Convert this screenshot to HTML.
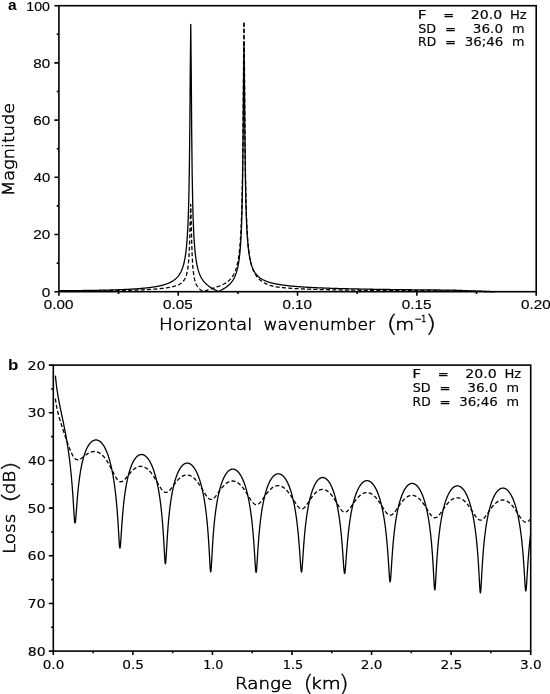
<!DOCTYPE html>
<html><head><meta charset="utf-8"><title>Figure</title>
<style>html,body{margin:0;padding:0;background:#fff}svg{display:block}</style>
</head><body>
<svg width="550" height="694" viewBox="0 0 550 694">
<rect width="550" height="694" fill="#fff"/>
<g fill="none" stroke="#000" stroke-linejoin="round">
<path d="M58.9 290.74 L59.02 290.74 L59.5 290.73 L59.97 290.73 L60.45 290.73 L60.93 290.72 L61.41 290.72 L61.88 290.72 L62.36 290.71 L62.84 290.71 L63.32 290.71 L63.79 290.7 L64.27 290.7 L64.75 290.7 L65.22 290.69 L65.7 290.69 L66.18 290.69 L66.66 290.68 L67.13 290.68 L67.61 290.67 L68.09 290.67 L68.57 290.67 L69.04 290.66 L69.52 290.66 L70 290.66 L70.47 290.65 L70.95 290.65 L71.43 290.64 L71.91 290.64 L72.38 290.63 L72.86 290.63 L73.34 290.63 L73.82 290.62 L74.29 290.62 L74.77 290.61 L75.25 290.61 L75.72 290.6 L76.2 290.6 L76.68 290.59 L77.16 290.59 L77.63 290.58 L78.11 290.58 L78.59 290.57 L79.07 290.57 L79.54 290.56 L80.02 290.56 L80.5 290.55 L80.98 290.55 L81.45 290.54 L81.93 290.54 L82.41 290.53 L82.88 290.53 L83.36 290.52 L83.84 290.51 L84.32 290.51 L84.79 290.5 L85.27 290.5 L85.75 290.49 L86.23 290.48 L86.7 290.48 L87.18 290.47 L87.66 290.46 L88.13 290.46 L88.61 290.45 L89.09 290.44 L89.57 290.44 L90.04 290.43 L90.52 290.42 L91 290.41 L91.48 290.41 L91.95 290.4 L92.43 290.39 L92.91 290.38 L93.38 290.38 L93.86 290.37 L94.34 290.36 L94.82 290.35 L95.29 290.34 L95.77 290.34 L96.25 290.33 L96.73 290.32 L97.2 290.31 L97.68 290.3 L98.16 290.29 L98.64 290.28 L99.11 290.27 L99.59 290.26 L100.07 290.25 L100.54 290.24 L101.02 290.23 L101.5 290.22 L101.98 290.21 L102.45 290.2 L102.93 290.19 L103.41 290.18 L103.89 290.17 L104.36 290.16 L104.84 290.15 L105.32 290.14 L105.79 290.13 L106.27 290.11 L106.75 290.1 L107.23 290.09 L107.7 290.08 L108.18 290.06 L108.66 290.05 L109.14 290.04 L109.61 290.03 L110.09 290.01 L110.57 290 L111.05 289.99 L111.52 289.97 L112 289.96 L112.48 289.94 L112.95 289.93 L113.43 289.91 L113.91 289.9 L114.39 289.88 L114.86 289.87 L115.34 289.85 L115.82 289.84 L116.3 289.82 L116.77 289.8 L117.25 289.79 L117.73 289.77 L118.2 289.75 L118.68 289.73 L119.16 289.72 L119.64 289.7 L120.11 289.68 L120.59 289.66 L121.07 289.64 L121.55 289.62 L122.02 289.6 L122.5 289.58 L122.98 289.56 L123.45 289.54 L123.93 289.52 L124.41 289.5 L124.89 289.48 L125.36 289.45 L125.84 289.43 L126.32 289.41 L126.8 289.38 L127.27 289.36 L127.75 289.34 L128.23 289.31 L128.71 289.29 L129.18 289.26 L129.66 289.23 L130.14 289.21 L130.61 289.18 L131.09 289.15 L131.57 289.12 L132.05 289.1 L132.52 289.07 L133 289.04 L133.48 289.01 L133.96 288.98 L134.43 288.95 L134.91 288.91 L135.39 288.88 L135.86 288.85 L136.34 288.82 L136.82 288.78 L137.3 288.75 L137.77 288.71 L138.25 288.67 L138.73 288.64 L139.21 288.6 L139.68 288.56 L140.16 288.52 L140.64 288.48 L141.11 288.44 L141.59 288.4 L142.07 288.36 L142.55 288.31 L143.02 288.27 L143.5 288.22 L143.98 288.18 L144.46 288.13 L144.93 288.08 L145.41 288.03 L145.89 287.98 L146.37 287.93 L146.84 287.88 L147.32 287.83 L147.8 287.77 L148.27 287.71 L148.75 287.66 L149.23 287.6 L149.71 287.54 L150.18 287.48 L150.66 287.41 L151.14 287.35 L151.62 287.28 L152.09 287.22 L152.57 287.15 L153.05 287.08 L153.52 287 L154 286.93 L154.48 286.85 L154.96 286.77 L155.43 286.69 L155.91 286.61 L156.39 286.52 L156.87 286.44 L157.34 286.35 L157.82 286.25 L158.3 286.16 L158.78 286.06 L159.25 285.96 L159.73 285.85 L160.21 285.75 L160.68 285.64 L161.16 285.52 L161.64 285.41 L162.12 285.29 L162.59 285.16 L163.07 285.03 L163.55 284.9 L164.03 284.76 L164.5 284.62 L164.98 284.47 L165.46 284.31 L165.93 284.16 L166.41 283.99 L166.89 283.82 L167.37 283.64 L167.84 283.46 L168.32 283.26 L168.8 283.06 L169.28 282.85 L169.75 282.63 L170.23 282.41 L170.71 282.17 L171.18 281.92 L171.66 281.66 L172.14 281.38 L172.62 281.09 L173.09 280.79 L173.57 280.47 L174.05 280.13 L174.53 279.78 L175 279.4 L175.48 279 L175.96 278.58 L176.44 278.13 L176.91 277.65 L177.39 277.13 L177.87 276.58 L178.34 275.99 L178.82 275.35 L179.3 274.66 L179.78 273.92 L180.25 273.1 L180.73 272.22 L181.21 271.24 L181.69 270.17 L182.16 268.98 L182.64 267.66 L183.12 266.17 L183.59 264.5 L184.07 262.59 L184.55 260.4 L185.03 257.85 L185.5 254.86 L185.98 251.29 L186.46 246.97 L186.94 241.63 L187.41 234.85 L187.89 226 L188.37 214.01 L188.84 196.95 L189.32 171.28 L189.8 130.53 L190.28 68.77 L190.75 24.51 L191.23 71.25 L191.71 134.1 L192.19 175.27 L192.66 201.12 L193.14 218.27 L193.62 230.31 L194.1 239.19 L194.57 245.99 L195.05 251.35 L195.53 255.68 L196 259.26 L196.48 262.26 L196.96 264.82 L197.44 267.02 L197.91 268.94 L198.39 270.63 L198.87 272.13 L199.35 273.47 L199.82 274.67 L200.3 275.76 L200.78 276.76 L201.25 277.67 L201.73 278.5 L202.21 279.27 L202.69 279.98 L203.16 280.65 L203.64 281.27 L204.12 281.85 L204.6 282.39 L205.07 282.91 L205.55 283.39 L206.03 283.85 L206.51 284.29 L206.98 284.71 L207.46 285.11 L207.94 285.49 L208.41 285.85 L208.89 286.21 L209.37 286.54 L209.85 286.87 L210.32 287.19 L210.8 287.5 L211.28 287.8 L211.76 288.09 L212.23 288.37 L212.71 288.65 L213.19 288.92 L213.66 289.18 L214.14 289.44 L214.62 289.7 L215.1 289.95 L215.57 290.2 L216.05 290.44 L216.53 290.68 L217.01 290.91 L218.2 291.32 L218.68 291.29 L219.15 291.14 L219.63 290.93 L220.11 290.7 L220.59 290.46 L221.06 290.21 L221.54 289.96 L222.02 289.7 L222.49 289.43 L222.97 289.15 L223.45 288.87 L223.93 288.59 L224.4 288.29 L224.88 287.99 L225.36 287.67 L225.84 287.35 L226.31 287.01 L226.79 286.66 L227.27 286.3 L227.74 285.92 L228.22 285.52 L228.7 285.11 L229.18 284.67 L229.65 284.21 L230.13 283.73 L230.61 283.21 L231.09 282.67 L231.56 282.08 L232.04 281.46 L232.52 280.79 L233 280.07 L233.47 279.29 L233.95 278.44 L234.43 277.51 L234.9 276.49 L235.38 275.37 L235.86 274.12 L236.34 272.72 L236.81 271.15 L237.29 269.36 L237.77 267.3 L238.25 264.93 L238.72 262.13 L239.2 258.81 L239.68 254.77 L240.15 249.79 L240.63 243.47 L241.11 235.22 L241.59 224.03 L242.06 208.09 L242.54 184.07 L243.02 145.8 L243.5 87.33 L243.97 43.66 L244.45 83.35 L244.93 140.06 L245.4 177.65 L245.88 201.36 L246.36 217.14 L246.84 228.24 L247.31 236.43 L247.79 242.7 L248.27 247.65 L248.75 251.65 L249.22 254.95 L249.7 257.72 L250.18 260.07 L250.66 262.1 L251.13 263.87 L251.61 265.42 L252.09 266.8 L252.56 268.02 L253.04 269.12 L253.52 270.11 L254 271.01 L254.47 271.84 L254.95 272.59 L255.43 273.28 L255.91 273.92 L256.38 274.51 L256.86 275.06 L257.34 275.57 L257.81 276.04 L258.29 276.49 L258.77 276.91 L259.25 277.3 L259.72 277.67 L260.2 278.02 L260.68 278.35 L261.16 278.66 L261.63 278.96 L262.11 279.24 L262.59 279.51 L263.07 279.76 L263.54 280.01 L264.02 280.24 L264.5 280.46 L264.97 280.68 L265.45 280.88 L265.93 281.08 L266.41 281.26 L266.88 281.44 L267.36 281.62 L267.84 281.78 L268.32 281.94 L268.79 282.1 L269.27 282.25 L269.75 282.39 L270.22 282.53 L270.7 282.67 L271.18 282.8 L271.66 282.93 L272.13 283.05 L272.61 283.17 L273.09 283.28 L273.57 283.39 L274.04 283.5 L274.52 283.61 L275 283.71 L275.47 283.81 L275.95 283.91 L276.43 284 L276.91 284.09 L277.38 284.18 L277.86 284.27 L278.34 284.35 L278.82 284.43 L279.29 284.51 L279.77 284.59 L280.25 284.67 L280.73 284.74 L281.2 284.82 L281.68 284.89 L282.16 284.96 L282.63 285.03 L283.11 285.09 L283.59 285.16 L284.07 285.22 L284.54 285.29 L285.02 285.35 L285.5 285.41 L285.98 285.47 L286.45 285.52 L286.93 285.58 L287.41 285.63 L287.88 285.69 L288.36 285.74 L288.84 285.79 L289.32 285.85 L289.79 285.9 L290.27 285.94 L290.75 285.99 L291.23 286.04 L291.7 286.09 L292.18 286.13 L292.66 286.18 L293.13 286.22 L293.61 286.26 L294.09 286.31 L294.57 286.35 L295.04 286.39 L295.52 286.43 L296 286.47 L296.48 286.51 L296.95 286.55 L297.43 286.59 L297.91 286.62 L298.39 286.66 L298.86 286.7 L299.34 286.73 L299.82 286.77 L300.29 286.8 L300.77 286.84 L301.25 286.87 L301.73 286.9 L302.2 286.94 L302.68 286.97 L303.16 287 L303.64 287.03 L304.11 287.06 L304.59 287.09 L305.07 287.12 L305.54 287.15 L306.02 287.18 L306.5 287.21 L306.98 287.24 L307.45 287.26 L307.93 287.29 L308.41 287.32 L308.89 287.35 L309.36 287.37 L309.84 287.4 L310.32 287.42 L310.8 287.45 L311.27 287.48 L311.75 287.5 L312.23 287.52 L312.7 287.55 L313.18 287.57 L313.66 287.6 L314.14 287.62 L314.61 287.64 L315.09 287.67 L315.57 287.69 L316.05 287.71 L316.52 287.73 L317 287.75 L317.48 287.78 L317.95 287.8 L318.43 287.82 L318.91 287.84 L319.39 287.86 L319.86 287.88 L320.34 287.9 L320.82 287.92 L321.3 287.94 L321.77 287.96 L322.25 287.98 L322.73 288 L323.2 288.02 L323.68 288.03 L324.16 288.05 L324.64 288.07 L325.11 288.09 L325.59 288.11 L326.07 288.12 L326.55 288.14 L327.02 288.16 L327.5 288.18 L327.98 288.19 L328.46 288.21 L328.93 288.23 L329.41 288.24 L329.89 288.26 L330.36 288.28 L330.84 288.29 L331.32 288.31 L331.8 288.32 L332.27 288.34 L332.75 288.35 L333.23 288.37 L333.71 288.38 L334.18 288.4 L334.66 288.41 L335.14 288.43 L335.61 288.44 L336.09 288.46 L336.57 288.47 L337.05 288.49 L337.52 288.5 L338 288.51 L338.48 288.53 L338.96 288.54 L339.43 288.55 L339.91 288.57 L340.39 288.58 L340.86 288.59 L341.34 288.61 L341.82 288.62 L342.3 288.63 L342.77 288.65 L343.25 288.66 L343.73 288.67 L344.21 288.68 L344.68 288.69 L345.16 288.71 L345.64 288.72 L346.12 288.73 L346.59 288.74 L347.07 288.75 L347.55 288.77 L348.02 288.78 L348.5 288.79 L348.98 288.8 L349.46 288.81 L349.93 288.82 L350.41 288.83 L350.89 288.85 L351.37 288.86 L351.84 288.87 L352.32 288.88 L352.8 288.89 L353.27 288.9 L353.75 288.91 L354.23 288.92 L354.71 288.93 L355.18 288.94 L355.66 288.95 L356.14 288.96 L356.62 288.97 L357.09 288.98 L357.57 288.99 L358.05 289 L358.53 289.01 L359 289.02 L359.48 289.03 L359.96 289.04 L360.43 289.05 L360.91 289.06 L361.39 289.07 L361.87 289.08 L362.34 289.09 L362.82 289.09 L363.3 289.1 L363.78 289.11 L364.25 289.12 L364.73 289.13 L365.21 289.14 L365.68 289.15 L366.16 289.16 L366.64 289.17 L367.12 289.17 L367.59 289.18 L368.07 289.19 L368.55 289.2 L369.03 289.21 L369.5 289.22 L369.98 289.22 L370.46 289.23 L370.93 289.24 L371.41 289.25 L371.89 289.26 L372.37 289.26 L372.84 289.27 L373.32 289.28 L373.8 289.29 L374.28 289.3 L374.75 289.3 L375.23 289.31 L375.71 289.32 L376.19 289.33 L376.66 289.33 L377.14 289.34 L377.62 289.35 L378.09 289.36 L378.57 289.36 L379.05 289.37 L379.53 289.38 L380 289.38 L380.48 289.39 L380.96 289.4 L381.44 289.41 L381.91 289.41 L382.39 289.42 L382.87 289.43 L383.34 289.43 L383.82 289.44 L384.3 289.45 L384.78 289.45 L385.25 289.46 L385.73 289.47 L386.21 289.47 L386.69 289.48 L387.16 289.49 L387.64 289.49 L388.12 289.5 L388.59 289.51 L389.07 289.51 L389.55 289.52 L390.03 289.52 L390.5 289.53 L390.98 289.54 L391.46 289.54 L391.94 289.55 L392.41 289.56 L392.89 289.56 L393.37 289.57 L393.85 289.57 L394.32 289.58 L394.8 289.59 L395.28 289.59 L395.75 289.6 L396.23 289.6 L396.71 289.61 L397.19 289.61 L397.66 289.62 L398.14 289.63 L398.62 289.63 L399.1 289.64 L399.57 289.64 L400.05 289.65 L400.53 289.65 L401 289.66 L401.48 289.67 L401.96 289.67 L402.44 289.68 L402.91 289.68 L403.39 289.69 L403.87 289.69 L404.35 289.7 L404.82 289.7 L405.3 289.71 L405.78 289.71 L406.26 289.72 L406.73 289.72 L407.21 289.73 L407.69 289.73 L408.16 289.74 L408.64 289.74 L409.12 289.75 L409.6 289.75 L410.07 289.76 L410.55 289.76 L411.03 289.77 L411.51 289.77 L411.98 289.78 L412.46 289.78 L412.94 289.79 L413.41 289.79 L413.89 289.8 L414.37 289.8 L414.85 289.81 L415.32 289.81 L415.8 289.82 L416.28 289.82 L416.76 289.83 L417.23 289.83 L417.71 289.84 L418.19 289.84 L418.66 289.84 L419.14 289.85 L419.62 289.85 L420.1 289.86 L420.57 289.86 L421.05 289.87 L421.53 289.87 L422.01 289.88 L422.48 289.88 L422.96 289.88 L423.44 289.89 L423.92 289.89 L424.39 289.9 L424.87 289.9 L425.35 289.91 L425.82 289.91 L426.3 289.91 L426.78 289.92 L427.26 289.92 L427.73 289.93 L428.21 289.93 L428.69 289.94 L429.17 289.94 L429.64 289.94 L430.12 289.95 L430.6 289.95 L431.07 289.96 L431.55 289.96 L432.03 289.96 L432.51 289.97 L432.98 289.97 L433.46 289.98 L433.94 289.98 L434.42 289.98 L434.89 289.99 L435.37 289.99 L435.85 289.99 L436.32 290 L436.8 290 L437.28 290.01 L437.76 290.01 L438.23 290.01 L438.71 290.02 L439.19 290.02 L439.67 290.02 L440.14 290.03 L440.62 290.03 L441.1 290.04 L441.58 290.04 L442.05 290.04 L442.53 290.05 L443.01 290.05 L443.48 290.05 L443.96 290.06 L444.44 290.06 L444.92 290.06 L445.39 290.07 L445.87 290.07 L446.35 290.07 L446.83 290.08 L447.3 290.08 L447.78 290.08 L448.26 290.09 L448.73 290.09 L449.21 290.1 L449.69 290.1 L450.17 290.1 L450.64 290.11 L451.12 290.11 L451.6 290.11 L452.08 290.12 L452.55 290.12 L453.03 290.13 L453.51 290.16 L453.99 290.18 L454.46 290.2 L454.94 290.22 L455.42 290.24 L455.89 290.26 L456.37 290.28 L456.85 290.3 L457.33 290.32 L457.8 290.34 L458.28 290.36 L458.76 290.38 L459.24 290.4 L459.71 290.42 L460.19 290.44 L460.67 290.46 L461.14 290.48 L461.62 290.5 L462.1 290.51 L462.58 290.53 L463.05 290.55 L463.53 290.57 L464.01 290.59 L464.49 290.61 L464.96 290.63 L465.44 290.65 L465.92 290.67 L466.39 290.68 L466.87 290.7 L467.35 290.72 L467.83 290.74 L468.3 290.76 L468.78 290.78 L469.26 290.79 L469.74 290.81 L470.21 290.83 L470.69 290.85 L471.17 290.87 L471.65 290.88 L472.12 290.9 L472.6 290.92 L473.08 290.94 L473.55 290.96 L474.03 290.97 L474.51 290.99 L474.99 291.01 L475.46 291.02 L475.94 291.04 L476.42 291.06 L476.9 291.08 L477.37 291.09 L477.85 291.11 L478.33 291.13 L478.8 291.14 L479.28 291.16 L479.76 291.18 L480.24 291.19 L480.71 291.21 L481.19 291.23 L481.67 291.24 L482.15 291.26 L482.62 291.28 L483.1 291.29 L483.58 291.31 L484.05 291.33 L484.53 291.34 L485.01 291.36 L485.49 291.37 L485.96 291.39 L486.44 291.41 L486.92 291.42 L487.4 291.44 L487.87 291.45 L488.35 291.47 L488.83 291.48 L489.31 291.5 L489.78 291.51 L490.26 291.53 L490.74 291.55 L491.21 291.56 L491.69 291.58 L492.17 291.59 L492.65 291.61 L493.12 291.62 L493.6 291.64 L494.08 291.65 L494.56 291.67 L495.03 291.68 L495.51 291.7" stroke-width="1.3"/>
<path d="M58.9 291.09 L59.02 291.09 L59.5 291.09 L59.97 291.09 L60.45 291.09 L60.93 291.09 L61.41 291.08 L61.88 291.08 L62.36 291.08 L62.84 291.08 L63.32 291.08 L63.79 291.08 L64.27 291.07 L64.75 291.07 L65.22 291.07 L65.7 291.07 L66.18 291.07 L66.66 291.06 L67.13 291.06 L67.61 291.06 L68.09 291.06 L68.57 291.05 L69.04 291.05 L69.52 291.05 L70 291.05 L70.47 291.05 L70.95 291.04 L71.43 291.04 L71.91 291.04 L72.38 291.04 L72.86 291.03 L73.34 291.03 L73.82 291.03 L74.29 291.03 L74.77 291.02 L75.25 291.02 L75.72 291.02 L76.2 291.02 L76.68 291.01 L77.16 291.01 L77.63 291.01 L78.11 291.01 L78.59 291 L79.07 291 L79.54 291 L80.02 290.99 L80.5 290.99 L80.98 290.99 L81.45 290.98 L81.93 290.98 L82.41 290.98 L82.88 290.97 L83.36 290.97 L83.84 290.97 L84.32 290.97 L84.79 290.96 L85.27 290.96 L85.75 290.95 L86.23 290.95 L86.7 290.95 L87.18 290.94 L87.66 290.94 L88.13 290.94 L88.61 290.93 L89.09 290.93 L89.57 290.92 L90.04 290.92 L90.52 290.92 L91 290.91 L91.48 290.91 L91.95 290.9 L92.43 290.9 L92.91 290.9 L93.38 290.89 L93.86 290.89 L94.34 290.88 L94.82 290.88 L95.29 290.87 L95.77 290.87 L96.25 290.86 L96.73 290.86 L97.2 290.85 L97.68 290.85 L98.16 290.84 L98.64 290.84 L99.11 290.83 L99.59 290.83 L100.07 290.82 L100.54 290.82 L101.02 290.81 L101.5 290.81 L101.98 290.8 L102.45 290.79 L102.93 290.79 L103.41 290.78 L103.89 290.78 L104.36 290.77 L104.84 290.76 L105.32 290.76 L105.79 290.75 L106.27 290.75 L106.75 290.74 L107.23 290.73 L107.7 290.73 L108.18 290.72 L108.66 290.71 L109.14 290.7 L109.61 290.7 L110.09 290.69 L110.57 290.68 L111.05 290.68 L111.52 290.67 L112 290.66 L112.48 290.65 L112.95 290.64 L113.43 290.64 L113.91 290.63 L114.39 290.62 L114.86 290.61 L115.34 290.6 L115.82 290.59 L116.3 290.58 L116.77 290.58 L117.25 290.57 L117.73 290.56 L118.2 290.55 L118.68 290.54 L119.16 290.53 L119.64 290.52 L120.11 290.51 L120.59 290.5 L121.07 290.49 L121.55 290.48 L122.02 290.47 L122.5 290.46 L122.98 290.45 L123.45 290.44 L123.93 290.42 L124.41 290.41 L124.89 290.4 L125.36 290.39 L125.84 290.38 L126.32 290.36 L126.8 290.35 L127.27 290.34 L127.75 290.33 L128.23 290.31 L128.71 290.3 L129.18 290.29 L129.66 290.27 L130.14 290.26 L130.61 290.25 L131.09 290.23 L131.57 290.22 L132.05 290.2 L132.52 290.19 L133 290.17 L133.48 290.16 L133.96 290.14 L134.43 290.13 L134.91 290.11 L135.39 290.09 L135.86 290.08 L136.34 290.06 L136.82 290.04 L137.3 290.02 L137.77 290.01 L138.25 289.99 L138.73 289.97 L139.21 289.95 L139.68 289.93 L140.16 289.91 L140.64 289.89 L141.11 289.87 L141.59 289.85 L142.07 289.83 L142.55 289.81 L143.02 289.79 L143.5 289.76 L143.98 289.74 L144.46 289.72 L144.93 289.69 L145.41 289.67 L145.89 289.65 L146.37 289.62 L146.84 289.6 L147.32 289.57 L147.8 289.54 L148.27 289.52 L148.75 289.49 L149.23 289.46 L149.71 289.43 L150.18 289.4 L150.66 289.37 L151.14 289.34 L151.62 289.31 L152.09 289.28 L152.57 289.25 L153.05 289.21 L153.52 289.18 L154 289.15 L154.48 289.11 L154.96 289.07 L155.43 289.04 L155.91 289 L156.39 288.96 L156.87 288.92 L157.34 288.88 L157.82 288.84 L158.3 288.8 L158.78 288.75 L159.25 288.71 L159.73 288.66 L160.21 288.61 L160.68 288.57 L161.16 288.52 L161.64 288.46 L162.12 288.41 L162.59 288.36 L163.07 288.3 L163.55 288.24 L164.03 288.19 L164.5 288.12 L164.98 288.06 L165.46 288 L165.93 287.93 L166.41 287.86 L166.89 287.79 L167.37 287.72 L167.84 287.64 L168.32 287.56 L168.8 287.48 L169.28 287.4 L169.75 287.31 L170.23 287.22 L170.71 287.12 L171.18 287.02 L171.66 286.92 L172.14 286.81 L172.62 286.7 L173.09 286.58 L173.57 286.46 L174.05 286.33 L174.53 286.19 L175 286.05 L175.48 285.9 L175.96 285.74 L176.44 285.57 L176.91 285.39 L177.39 285.2 L177.87 285 L178.34 284.79 L178.82 284.56 L179.3 284.31 L179.78 284.04 L180.25 283.75 L180.73 283.44 L181.21 283.1 L181.69 282.72 L182.16 282.31 L182.64 281.85 L183.12 281.34 L183.59 280.77 L184.07 280.12 L184.55 279.37 L185.03 278.52 L185.5 277.51 L185.98 276.32 L186.46 274.88 L186.94 273.11 L187.41 270.88 L187.89 267.97 L188.37 264.05 L188.84 258.49 L189.32 250.17 L189.8 237.05 L190.28 217.44 L190.75 204.35 L191.23 221.04 L191.71 242.23 L192.19 255.95 L192.66 264.53 L193.14 270.22 L193.62 274.21 L194.1 277.16 L194.57 279.42 L195.05 281.21 L195.53 282.66 L196 283.86 L196.48 284.87 L196.96 285.74 L197.44 286.49 L197.91 287.15 L198.39 287.73 L198.87 288.25 L199.35 288.72 L199.82 289.14 L200.3 289.53 L200.78 289.89 L201.25 290.21 L201.73 290.51 L202.21 290.78 L202.69 291.02 L203.16 291.22 L203.64 291.34 L204.12 291.32 L204.6 291.19 L205.07 291.02 L205.55 290.84 L206.03 290.66 L206.51 290.48 L206.98 290.31 L207.46 290.13 L207.94 289.96 L208.41 289.8 L208.89 289.63 L209.37 289.47 L209.85 289.31 L210.32 289.15 L210.8 289 L211.28 288.84 L211.76 288.68 L212.23 288.53 L212.71 288.37 L213.19 288.22 L213.66 288.06 L214.14 287.91 L214.62 287.75 L215.1 287.59 L215.57 287.43 L216.05 287.26 L216.53 287.1 L217.01 286.93 L218.2 286.5 L218.68 286.32 L219.15 286.13 L219.63 285.95 L220.11 285.75 L220.59 285.55 L221.06 285.35 L221.54 285.14 L222.02 284.92 L222.49 284.7 L222.97 284.46 L223.45 284.22 L223.93 283.97 L224.4 283.71 L224.88 283.44 L225.36 283.16 L225.84 282.86 L226.31 282.55 L226.79 282.22 L227.27 281.88 L227.74 281.52 L228.22 281.14 L228.7 280.74 L229.18 280.31 L229.65 279.86 L230.13 279.38 L230.61 278.87 L231.09 278.32 L231.56 277.72 L232.04 277.09 L232.52 276.4 L233 275.66 L233.47 274.85 L233.95 273.97 L234.43 273 L234.9 271.93 L235.38 270.74 L235.86 269.42 L236.34 267.94 L236.81 266.27 L237.29 264.36 L237.77 262.17 L238.25 259.62 L238.72 256.62 L239.2 253.05 L239.68 248.71 L240.15 243.34 L240.63 236.53 L241.11 227.63 L241.59 215.54 L242.06 198.34 L242.54 172.41 L243.02 131.17 L243.5 68.41 L243.97 22.56" stroke-width="1.3" stroke-dasharray="4 2.3"/>
<path d="M243.97 22.56 L244.45 67.11 L244.93 129.29 L245.4 170.31 L245.88 196.14 L246.36 213.29 L246.84 225.34 L247.31 234.23 L247.79 241.02 L248.27 246.38 L248.75 250.71 L249.22 254.28 L249.7 257.27 L250.18 259.81 L250.66 262.01 L251.13 263.94 L251.61 265.64 L252.09 267.15 L252.56 268.51 L253.04 269.74 L253.52 270.85 L254 271.86 L254.47 272.8 L254.95 273.65 L255.43 274.45 L255.91 275.18 L256.38 275.86 L256.86 276.5 L257.34 277.1 L257.81 277.66 L258.29 278.18 L258.77 278.68 L259.25 279.15 L259.72 279.59 L260.2 280.01 L260.68 280.4 L261.16 280.78 L261.63 281.14 L262.11 281.48 L262.59 281.8 L263.07 282.11 L263.54 282.41 L264.02 282.69 L264.5 282.96 L264.97 283.21 L265.45 283.46 L265.93 283.69 L266.41 283.92 L266.88 284.13 L267.36 284.34 L267.84 284.53 L268.32 284.72 L268.79 284.9 L269.27 285.07 L269.75 285.24 L270.22 285.4 L270.7 285.55 L271.18 285.69 L271.66 285.83 L272.13 285.96 L272.61 286.08 L273.09 286.2 L273.57 286.31 L274.04 286.42 L274.52 286.52 L275 286.62 L275.47 286.71 L275.95 286.79 L276.43 286.88 L276.91 286.95 L277.38 287.02 L277.86 287.09 L278.34 287.15 L278.82 287.21 L279.29 287.27 L279.77 287.32 L280.25 287.37 L280.73 287.43 L281.2 287.48 L281.68 287.53 L282.16 287.58 L282.63 287.62 L283.11 287.67 L283.59 287.71 L284.07 287.76 L284.54 287.8 L285.02 287.84 L285.5 287.89 L285.98 287.93 L286.45 287.96 L286.93 288 L287.41 288.04 L287.88 288.08 L288.36 288.11 L288.84 288.15 L289.32 288.18 L289.79 288.22 L290.27 288.25 L290.75 288.28 L291.23 288.32 L291.7 288.35 L292.18 288.38 L292.66 288.41 L293.13 288.44 L293.61 288.47 L294.09 288.5 L294.57 288.53 L295.04 288.55 L295.52 288.58 L296 288.61 L296.48 288.63 L296.95 288.66 L297.43 288.68 L297.91 288.71 L298.39 288.73 L298.86 288.76 L299.34 288.78 L299.82 288.8 L300.29 288.83 L300.77 288.85 L301.25 288.87 L301.73 288.89 L302.2 288.91 L302.68 288.94 L303.16 288.96 L303.64 288.98 L304.11 289 L304.59 289.02 L305.07 289.04 L305.54 289.06 L306.02 289.07 L306.5 289.09 L306.98 289.11 L307.45 289.13 L307.93 289.15 L308.41 289.16 L308.89 289.18 L309.36 289.2 L309.84 289.22 L310.32 289.23 L310.8 289.25 L311.27 289.27 L311.75 289.28 L312.23 289.3 L312.7 289.31 L313.18 289.33 L313.66 289.34 L314.14 289.36 L314.61 289.37 L315.09 289.39 L315.57 289.4 L316.05 289.42 L316.52 289.43 L317 289.44 L317.48 289.46 L317.95 289.47 L318.43 289.48 L318.91 289.5 L319.39 289.51 L319.86 289.52 L320.34 289.54 L320.82 289.55 L321.3 289.56 L321.77 289.57 L322.25 289.59 L322.73 289.6 L323.2 289.61 L323.68 289.62 L324.16 289.63 L324.64 289.64 L325.11 289.66 L325.59 289.67 L326.07 289.68 L326.55 289.69 L327.02 289.7 L327.5 289.71 L327.98 289.72 L328.46 289.73 L328.93 289.74 L329.41 289.75 L329.89 289.76 L330.36 289.77 L330.84 289.78 L331.32 289.79 L331.8 289.8 L332.27 289.81 L332.75 289.82 L333.23 289.83 L333.71 289.84 L334.18 289.85 L334.66 289.86 L335.14 289.87 L335.61 289.88 L336.09 289.88 L336.57 289.89 L337.05 289.9 L337.52 289.91 L338 289.92 L338.48 289.93 L338.96 289.94 L339.43 289.94 L339.91 289.95 L340.39 289.96 L340.86 289.97 L341.34 289.98 L341.82 289.98 L342.3 289.99 L342.77 290 L343.25 290.01 L343.73 290.02 L344.21 290.02 L344.68 290.03 L345.16 290.04 L345.64 290.05 L346.12 290.05 L346.59 290.06 L347.07 290.07 L347.55 290.07 L348.02 290.08 L348.5 290.09 L348.98 290.09 L349.46 290.1 L349.93 290.11 L350.41 290.12 L350.89 290.12 L351.37 290.13 L351.84 290.13 L352.32 290.14 L352.8 290.15 L353.27 290.15 L353.75 290.16 L354.23 290.17 L354.71 290.17 L355.18 290.18 L355.66 290.19 L356.14 290.19 L356.62 290.2 L357.09 290.2 L357.57 290.21 L358.05 290.22 L358.53 290.22 L359 290.23 L359.48 290.23 L359.96 290.24 L360.43 290.24 L360.91 290.25 L361.39 290.25 L361.87 290.26 L362.34 290.27 L362.82 290.27 L363.3 290.28 L363.78 290.28 L364.25 290.29 L364.73 290.29 L365.21 290.3 L365.68 290.3 L366.16 290.31 L366.64 290.31 L367.12 290.32 L367.59 290.32 L368.07 290.33 L368.55 290.33 L369.03 290.34 L369.5 290.34 L369.98 290.35 L370.46 290.35 L370.93 290.36 L371.41 290.36 L371.89 290.37 L372.37 290.37 L372.84 290.38 L373.32 290.38 L373.8 290.39 L374.28 290.39 L374.75 290.39 L375.23 290.4 L375.71 290.4 L376.19 290.41 L376.66 290.41 L377.14 290.42 L377.62 290.42 L378.09 290.43 L378.57 290.43 L379.05 290.43 L379.53 290.44 L380 290.44 L380.48 290.45 L380.96 290.45 L381.44 290.45 L381.91 290.46 L382.39 290.46 L382.87 290.47 L383.34 290.47 L383.82 290.48 L384.3 290.48 L384.78 290.48 L385.25 290.49 L385.73 290.49 L386.21 290.49 L386.69 290.5 L387.16 290.5 L387.64 290.51 L388.12 290.51 L388.59 290.51 L389.07 290.52 L389.55 290.52 L390.03 290.52 L390.5 290.53 L390.98 290.53 L391.46 290.54 L391.94 290.54 L392.41 290.54 L392.89 290.55 L393.37 290.55 L393.85 290.55 L394.32 290.56 L394.8 290.56 L395.28 290.56 L395.75 290.57 L396.23 290.57 L396.71 290.57 L397.19 290.58 L397.66 290.58 L398.14 290.58 L398.62 290.59 L399.1 290.59 L399.57 290.59 L400.05 290.6 L400.53 290.6 L401 290.6 L401.48 290.61 L401.96 290.61 L402.44 290.61 L402.91 290.62 L403.39 290.62 L403.87 290.62 L404.35 290.62 L404.82 290.63 L405.3 290.63 L405.78 290.63 L406.26 290.64 L406.73 290.64 L407.21 290.64 L407.69 290.65 L408.16 290.65 L408.64 290.65 L409.12 290.65 L409.6 290.66 L410.07 290.66 L410.55 290.66 L411.03 290.67 L411.51 290.67 L411.98 290.67 L412.46 290.67 L412.94 290.68 L413.41 290.68 L413.89 290.68 L414.37 290.68 L414.85 290.69 L415.32 290.69 L415.8 290.69 L416.28 290.7 L416.76 290.7 L417.23 290.7 L417.71 290.7 L418.19 290.71 L418.66 290.71 L419.14 290.71 L419.62 290.71 L420.1 290.72 L420.57 290.72 L421.05 290.72 L421.53 290.72 L422.01 290.73 L422.48 290.73 L422.96 290.73 L423.44 290.73 L423.92 290.74 L424.39 290.74 L424.87 290.74 L425.35 290.74 L425.82 290.75 L426.3 290.75 L426.78 290.75 L427.26 290.75 L427.73 290.76 L428.21 290.76 L428.69 290.76 L429.17 290.76 L429.64 290.76 L430.12 290.77 L430.6 290.77 L431.07 290.77 L431.55 290.77 L432.03 290.78 L432.51 290.78 L432.98 290.78 L433.46 290.78 L433.94 290.78 L434.42 290.79 L434.89 290.79 L435.37 290.79 L435.85 290.79 L436.32 290.8 L436.8 290.8 L437.28 290.8 L437.76 290.8 L438.23 290.8 L438.71 290.81 L439.19 290.81 L439.67 290.81 L440.14 290.81 L440.62 290.81 L441.1 290.82 L441.58 290.82 L442.05 290.82 L442.53 290.82 L443.01 290.82 L443.48 290.83 L443.96 290.83 L444.44 290.83 L444.92 290.83 L445.39 290.83 L445.87 290.84 L446.35 290.84 L446.83 290.84 L447.3 290.84 L447.78 290.84 L448.26 290.85 L448.73 290.85 L449.21 290.85 L449.69 290.85 L450.17 290.85 L450.64 290.86 L451.12 290.86 L451.6 290.86 L452.08 290.86 L452.55 290.86 L453.03 290.87 L453.51 290.88 L453.99 290.89 L454.46 290.9 L454.94 290.92 L455.42 290.93 L455.89 290.94 L456.37 290.95 L456.85 290.96 L457.33 290.97 L457.8 290.98 L458.28 290.99 L458.76 291 L459.24 291.01 L459.71 291.02 L460.19 291.03 L460.67 291.04 L461.14 291.05 L461.62 291.06 L462.1 291.07 L462.58 291.08 L463.05 291.09 L463.53 291.1 L464.01 291.11 L464.49 291.12 L464.96 291.13 L465.44 291.14 L465.92 291.15 L466.39 291.16 L466.87 291.17 L467.35 291.18 L467.83 291.19 L468.3 291.2 L468.78 291.21 L469.26 291.22 L469.74 291.23 L470.21 291.24 L470.69 291.25 L471.17 291.26 L471.65 291.27 L472.12 291.28 L472.6 291.29 L473.08 291.3 L473.55 291.31 L474.03 291.32 L474.51 291.33 L474.99 291.34 L475.46 291.34 L475.94 291.35 L476.42 291.36 L476.9 291.37 L477.37 291.38 L477.85 291.39 L478.33 291.4 L478.8 291.41 L479.28 291.42 L479.76 291.43 L480.24 291.43 L480.71 291.44 L481.19 291.45 L481.67 291.46 L482.15 291.47 L482.62 291.48 L483.1 291.49 L483.58 291.49 L484.05 291.5 L484.53 291.51 L485.01 291.52 L485.49 291.53 L485.96 291.54 L486.44 291.55 L486.92 291.55 L487.4 291.56 L487.87 291.57 L488.35 291.58 L488.83 291.59 L489.31 291.59 L489.78 291.6 L490.26 291.61 L490.74 291.62 L491.21 291.63 L491.69 291.63 L492.17 291.64 L492.65 291.65 L493.12 291.66 L493.6 291.67 L494.08 291.67 L494.56 291.68 L495.03 291.69 L495.51 291.7" stroke-width="1.3" stroke-dasharray="4 2.3" stroke-dashoffset="5.95"/>
<path d="M55.4 375.59 L55.65 378.26 L55.9 380.69 L56.15 382.94 L56.4 385.02 L56.65 386.97 L56.9 388.81 L57.15 390.56 L57.4 392.22 L57.65 393.81 L57.9 395.34 L58.15 396.81 L58.4 398.24 L58.65 399.63 L58.9 400.98 L59.15 402.3 L59.4 403.6 L59.65 404.87 L59.9 406.12 L60.15 407.35 L60.4 408.57 L60.65 409.78 L60.9 410.98 L61.15 412.17 L61.4 413.35 L61.65 414.54 L61.9 415.72 L62.15 416.9 L62.4 418.08 L62.65 419.26 L62.9 420.45 L63.15 421.65 L63.4 422.85 L63.65 424.07 L63.9 425.29 L64.15 426.53 L64.4 427.78 L64.65 429.04 L64.9 430.32 L65.15 431.62 L65.4 432.94 L65.65 434.29 L65.9 435.65 L66.15 437.04 L66.4 438.45 L66.65 439.9 L66.9 441.38 L67.15 442.88 L67.4 444.43 L67.65 446.01 L67.9 447.64 L68.15 449.3 L68.4 451.02 L68.65 452.78 L68.9 454.6 L69.15 456.48 L69.4 458.42 L69.65 460.43 L69.9 462.51 L70.15 464.68 L70.4 466.93 L70.65 469.27 L70.9 471.71 L71.15 474.27 L71.4 476.94 L71.65 479.75 L71.9 482.7 L72.15 485.8 L72.4 489.06 L72.65 492.48 L72.9 496.09 L73.15 499.85 L73.4 503.76 L73.65 507.75 L73.9 511.73 L74.15 515.51 L74.4 518.85 L74.65 521.41 L74.9 522.84 L75.15 522.97 L75.4 521.87 L75.65 519.77 L75.9 516.97 L76.15 513.78 L76.4 510.41 L76.65 507.03 L76.9 503.73 L77.15 500.56 L77.4 497.54 L77.65 494.68 L77.9 491.98 L78.15 489.43 L78.4 487.03 L78.65 484.76 L78.9 482.62 L79.15 480.59 L79.4 478.68 L79.65 476.86 L79.9 475.14 L80.15 473.5 L80.4 471.94 L80.65 470.46 L80.9 469.05 L81.15 467.7 L81.4 466.41 L81.65 465.18 L81.9 464 L82.15 462.88 L82.4 461.8 L82.65 460.76 L82.9 459.77 L83.15 458.82 L83.4 457.9 L83.65 457.03 L83.9 456.18 L84.15 455.37 L84.4 454.6 L84.65 453.85 L84.9 453.13 L85.15 452.44 L85.4 451.77 L85.65 451.13 L85.9 450.52 L86.15 449.93 L86.4 449.36 L86.65 448.81 L86.9 448.29 L87.15 447.78 L87.4 447.3 L87.65 446.84 L87.9 446.39 L88.15 445.96 L88.4 445.55 L88.65 445.16 L88.9 444.79 L89.15 444.43 L89.4 444.09 L89.65 443.76 L89.9 443.45 L90.15 443.15 L90.4 442.87 L90.65 442.61 L90.9 442.35 L91.15 442.11 L91.4 441.89 L91.65 441.68 L91.9 441.48 L92.15 441.29 L92.4 441.12 L92.65 440.96 L92.9 440.81 L93.15 440.68 L93.4 440.56 L93.65 440.45 L93.9 440.35 L94.15 440.26 L94.4 440.18 L94.65 440.12 L94.9 440.07 L95.15 440.02 L95.4 439.99 L95.65 439.97 L95.9 439.97 L96.15 439.97 L96.4 439.98 L96.65 440.01 L96.9 440.04 L97.15 440.09 L97.4 440.15 L97.65 440.22 L97.9 440.29 L98.15 440.38 L98.4 440.48 L98.65 440.6 L98.9 440.72 L99.15 440.86 L99.4 441.01 L99.65 441.17 L99.9 441.35 L100.15 441.54 L100.4 441.74 L100.65 441.96 L100.9 442.19 L101.15 442.44 L101.4 442.7 L101.65 442.97 L101.9 443.26 L102.15 443.56 L102.4 443.87 L102.65 444.2 L102.9 444.55 L103.15 444.91 L103.4 445.28 L103.65 445.67 L103.9 446.08 L104.15 446.5 L104.4 446.94 L104.65 447.39 L104.9 447.86 L105.15 448.35 L105.4 448.86 L105.65 449.38 L105.9 449.92 L106.15 450.48 L106.4 451.05 L106.65 451.65 L106.9 452.27 L107.15 452.9 L107.4 453.56 L107.65 454.24 L107.9 454.94 L108.15 455.66 L108.4 456.4 L108.65 457.17 L108.9 457.97 L109.15 458.79 L109.4 459.63 L109.65 460.51 L109.9 461.41 L110.15 462.34 L110.4 463.3 L110.65 464.3 L110.9 465.32 L111.15 466.39 L111.4 467.49 L111.65 468.62 L111.9 469.8 L112.15 471.02 L112.4 472.29 L112.65 473.6 L112.9 474.96 L113.15 476.37 L113.4 477.85 L113.65 479.38 L113.9 480.97 L114.15 482.63 L114.4 484.37 L114.65 486.18 L114.9 488.08 L115.15 490.06 L115.4 492.15 L115.65 494.35 L115.9 496.66 L116.15 499.09 L116.4 501.67 L116.65 504.4 L116.9 507.29 L117.15 510.36 L117.4 513.63 L117.65 517.11 L117.9 520.8 L118.15 524.71 L118.4 528.82 L118.65 533.06 L118.9 537.31 L119.15 541.36 L119.4 544.82 L119.65 547.24 L119.9 548.17 L120.15 547.54 L120.4 545.56 L120.65 542.61 L120.9 539.07 L121.15 535.27 L121.4 531.42 L121.65 527.66 L121.9 524.06 L122.15 520.63 L122.4 517.4 L122.65 514.36 L122.9 511.49 L123.15 508.8 L123.4 506.26 L123.65 503.86 L123.9 501.6 L124.15 499.46 L124.4 497.43 L124.65 495.51 L124.9 493.68 L125.15 491.94 L125.4 490.28 L125.65 488.7 L125.9 487.19 L126.15 485.74 L126.4 484.36 L126.65 483.03 L126.9 481.77 L127.15 480.55 L127.4 479.38 L127.65 478.26 L127.9 477.18 L128.15 476.14 L128.4 475.14 L128.65 474.18 L128.9 473.26 L129.15 472.37 L129.4 471.51 L129.65 470.69 L129.9 469.89 L130.15 469.13 L130.4 468.39 L130.65 467.67 L130.9 466.99 L131.15 466.33 L131.4 465.69 L131.65 465.08 L131.9 464.48 L132.15 463.92 L132.4 463.37 L132.65 462.84 L132.9 462.33 L133.15 461.84 L133.4 461.37 L133.65 460.92 L133.9 460.49 L134.15 460.08 L134.4 459.68 L134.65 459.3 L134.9 458.94 L135.15 458.59 L135.4 458.26 L135.65 457.94 L135.9 457.64 L136.15 457.35 L136.4 457.08 L136.65 456.82 L136.9 456.58 L137.15 456.35 L137.4 456.14 L137.65 455.94 L137.9 455.75 L138.15 455.58 L138.4 455.42 L138.65 455.27 L138.9 455.14 L139.15 455.02 L139.4 454.91 L139.65 454.81 L139.9 454.73 L140.15 454.66 L140.4 454.6 L140.65 454.56 L140.9 454.53 L141.15 454.5 L141.4 454.5 L141.65 454.5 L141.9 454.51 L142.15 454.54 L142.4 454.58 L142.65 454.63 L142.9 454.7 L143.15 454.77 L143.4 454.86 L143.65 454.96 L143.9 455.07 L144.15 455.2 L144.4 455.34 L144.65 455.49 L144.9 455.65 L145.15 455.82 L145.4 456.01 L145.65 456.21 L145.9 456.42 L146.15 456.64 L146.4 456.88 L146.65 457.13 L146.9 457.39 L147.15 457.67 L147.4 457.96 L147.65 458.26 L147.9 458.58 L148.15 458.91 L148.4 459.25 L148.65 459.61 L148.9 459.98 L149.15 460.37 L149.4 460.77 L149.65 461.19 L149.9 461.63 L150.15 462.07 L150.4 462.54 L150.65 463.02 L150.9 463.52 L151.15 464.03 L151.4 464.57 L151.65 465.12 L151.9 465.68 L152.15 466.27 L152.4 466.88 L152.65 467.5 L152.9 468.15 L153.15 468.82 L153.4 469.5 L153.65 470.21 L153.9 470.95 L154.15 471.7 L154.4 472.48 L154.65 473.29 L154.9 474.12 L155.15 474.98 L155.4 475.87 L155.65 476.79 L155.9 477.73 L156.15 478.71 L156.4 479.72 L156.65 480.77 L156.9 481.85 L157.15 482.97 L157.4 484.14 L157.65 485.34 L157.9 486.59 L158.15 487.88 L158.4 489.23 L158.65 490.62 L158.9 492.08 L159.15 493.59 L159.4 495.17 L159.65 496.81 L159.9 498.53 L160.15 500.33 L160.4 502.21 L160.65 504.19 L160.9 506.26 L161.15 508.44 L161.4 510.75 L161.65 513.18 L161.9 515.75 L162.15 518.48 L162.4 521.38 L162.65 524.47 L162.9 527.77 L163.15 531.28 L163.4 535.04 L163.65 539.03 L163.9 543.25 L164.15 547.64 L164.4 552.1 L164.65 556.38 L164.9 560.1 L165.15 562.72 L165.4 563.72 L165.65 562.84 L165.9 560.31 L166.15 556.67 L166.4 552.47 L166.65 548.08 L166.9 543.76 L167.15 539.62 L167.4 535.71 L167.65 532.03 L167.9 528.6 L168.15 525.39 L168.4 522.39 L168.65 519.57 L168.9 516.93 L169.15 514.44 L169.4 512.1 L169.65 509.89 L169.9 507.79 L170.15 505.81 L170.4 503.92 L170.65 502.13 L170.9 500.43 L171.15 498.8 L171.4 497.25 L171.65 495.76 L171.9 494.34 L172.15 492.98 L172.4 491.67 L172.65 490.42 L172.9 489.22 L173.15 488.06 L173.4 486.95 L173.65 485.88 L173.9 484.86 L174.15 483.87 L174.4 482.91 L174.65 482 L174.9 481.11 L175.15 480.26 L175.4 479.44 L175.65 478.64 L175.9 477.88 L176.15 477.14 L176.4 476.43 L176.65 475.74 L176.9 475.08 L177.15 474.44 L177.4 473.82 L177.65 473.23 L177.9 472.66 L178.15 472.11 L178.4 471.58 L178.65 471.07 L178.9 470.58 L179.15 470.1 L179.4 469.65 L179.65 469.21 L179.9 468.79 L180.15 468.39 L180.4 468.01 L180.65 467.64 L180.9 467.29 L181.15 466.95 L181.4 466.63 L181.65 466.32 L181.9 466.03 L182.15 465.75 L182.4 465.49 L182.65 465.25 L182.9 465.01 L183.15 464.79 L183.4 464.59 L183.65 464.4 L183.9 464.22 L184.15 464.05 L184.4 463.9 L184.65 463.76 L184.9 463.64 L185.15 463.53 L185.4 463.43 L185.65 463.34 L185.9 463.27 L186.15 463.2 L186.4 463.15 L186.65 463.12 L186.9 463.09 L187.15 463.08 L187.4 463.08 L187.65 463.09 L187.9 463.12 L188.15 463.16 L188.4 463.21 L188.65 463.27 L188.9 463.34 L189.15 463.43 L189.4 463.53 L189.65 463.64 L189.9 463.76 L190.15 463.9 L190.4 464.05 L190.65 464.21 L190.9 464.38 L191.15 464.57 L191.4 464.77 L191.65 464.98 L191.9 465.21 L192.15 465.45 L192.4 465.7 L192.65 465.96 L192.9 466.24 L193.15 466.54 L193.4 466.84 L193.65 467.16 L193.9 467.5 L194.15 467.85 L194.4 468.22 L194.65 468.6 L194.9 468.99 L195.15 469.4 L195.4 469.83 L195.65 470.27 L195.9 470.73 L196.15 471.2 L196.4 471.7 L196.65 472.21 L196.9 472.74 L197.15 473.28 L197.4 473.85 L197.65 474.43 L197.9 475.04 L198.15 475.66 L198.4 476.3 L198.65 476.97 L198.9 477.66 L199.15 478.37 L199.4 479.11 L199.65 479.87 L199.9 480.65 L200.15 481.46 L200.4 482.3 L200.65 483.16 L200.9 484.06 L201.15 484.98 L201.4 485.94 L201.65 486.93 L201.9 487.95 L202.15 489.01 L202.4 490.11 L202.65 491.25 L202.9 492.43 L203.15 493.66 L203.4 494.93 L203.65 496.25 L203.9 497.62 L204.15 499.05 L204.4 500.54 L204.65 502.1 L204.9 503.72 L205.15 505.41 L205.4 507.18 L205.65 509.04 L205.9 510.99 L206.15 513.04 L206.4 515.19 L206.65 517.47 L206.9 519.87 L207.15 522.42 L207.4 525.12 L207.65 528 L207.9 531.06 L208.15 534.34 L208.4 537.84 L208.65 541.59 L208.9 545.59 L209.15 549.84 L209.4 554.31 L209.65 558.9 L209.9 563.4 L210.15 567.45 L210.4 570.48 L210.65 571.89 L210.9 571.31 L211.15 568.92 L211.4 565.27 L211.65 560.97 L211.9 556.46 L212.15 552 L212.4 547.73 L212.65 543.7 L212.9 539.92 L213.15 536.39 L213.4 533.1 L213.65 530.02 L213.9 527.14 L214.15 524.44 L214.4 521.9 L214.65 519.51 L214.9 517.25 L215.15 515.12 L215.4 513.1 L215.65 511.17 L215.9 509.35 L216.15 507.61 L216.4 505.95 L216.65 504.37 L216.9 502.86 L217.15 501.41 L217.4 500.02 L217.65 498.69 L217.9 497.42 L218.15 496.19 L218.4 495.01 L218.65 493.88 L218.9 492.79 L219.15 491.74 L219.4 490.73 L219.65 489.76 L219.9 488.82 L220.15 487.92 L220.4 487.05 L220.65 486.21 L220.9 485.39 L221.15 484.61 L221.4 483.86 L221.65 483.13 L221.9 482.42 L222.15 481.74 L222.4 481.09 L222.65 480.46 L222.9 479.85 L223.15 479.26 L223.4 478.69 L223.65 478.15 L223.9 477.62 L224.15 477.11 L224.4 476.62 L224.65 476.15 L224.9 475.7 L225.15 475.27 L225.4 474.85 L225.65 474.45 L225.9 474.07 L226.15 473.7 L226.4 473.35 L226.65 473.01 L226.9 472.69 L227.15 472.38 L227.4 472.09 L227.65 471.82 L227.9 471.55 L228.15 471.31 L228.4 471.07 L228.65 470.85 L228.9 470.65 L229.15 470.45 L229.4 470.28 L229.65 470.11 L229.9 469.96 L230.15 469.82 L230.4 469.69 L230.65 469.58 L230.9 469.47 L231.15 469.38 L231.4 469.31 L231.65 469.24 L231.9 469.19 L232.15 469.15 L232.4 469.13 L232.65 469.11 L232.9 469.11 L233.15 469.12 L233.4 469.14 L233.65 469.18 L233.9 469.23 L234.15 469.29 L234.4 469.36 L234.65 469.44 L234.9 469.54 L235.15 469.65 L235.4 469.77 L235.65 469.9 L235.9 470.05 L236.15 470.21 L236.4 470.38 L236.65 470.56 L236.9 470.76 L237.15 470.97 L237.4 471.19 L237.65 471.43 L237.9 471.68 L238.15 471.94 L238.4 472.22 L238.65 472.51 L238.9 472.82 L239.15 473.14 L239.4 473.47 L239.65 473.82 L239.9 474.18 L240.15 474.56 L240.4 474.95 L240.65 475.36 L240.9 475.79 L241.15 476.23 L241.4 476.69 L241.65 477.16 L241.9 477.65 L242.15 478.16 L242.4 478.69 L242.65 479.23 L242.9 479.8 L243.15 480.38 L243.4 480.98 L243.65 481.61 L243.9 482.25 L244.15 482.92 L244.4 483.61 L244.65 484.32 L244.9 485.05 L245.15 485.81 L245.4 486.6 L245.65 487.41 L245.9 488.25 L246.15 489.12 L246.4 490.01 L246.65 490.94 L246.9 491.9 L247.15 492.89 L247.4 493.92 L247.65 494.98 L247.9 496.08 L248.15 497.22 L248.4 498.41 L248.65 499.64 L248.9 500.92 L249.15 502.24 L249.4 503.62 L249.65 505.06 L249.9 506.55 L250.15 508.11 L250.4 509.74 L250.65 511.44 L250.9 513.22 L251.15 515.08 L251.4 517.03 L251.65 519.09 L251.9 521.25 L252.15 523.52 L252.4 525.92 L252.65 528.47 L252.9 531.16 L253.15 534.01 L253.4 537.04 L253.65 540.26 L253.9 543.68 L254.15 547.31 L254.4 551.13 L254.65 555.11 L254.9 559.19 L255.15 563.2 L255.4 566.92 L255.65 569.97 L255.9 571.91 L256.15 572.39 L256.4 571.3 L256.65 568.87 L256.9 565.54 L257.15 561.7 L257.4 557.69 L257.65 553.69 L257.9 549.83 L258.15 546.14 L258.4 542.65 L258.65 539.37 L258.9 536.28 L259.15 533.38 L259.4 530.65 L259.65 528.08 L259.9 525.65 L260.15 523.35 L260.4 521.18 L260.65 519.12 L260.9 517.16 L261.15 515.3 L261.4 513.52 L261.65 511.83 L261.9 510.21 L262.15 508.67 L262.4 507.19 L262.65 505.77 L262.9 504.41 L263.15 503.11 L263.4 501.85 L263.65 500.65 L263.9 499.49 L264.15 498.38 L264.4 497.3 L264.65 496.27 L264.9 495.27 L265.15 494.31 L265.4 493.38 L265.65 492.49 L265.9 491.63 L266.15 490.8 L266.4 489.99 L266.65 489.22 L266.9 488.47 L267.15 487.75 L267.4 487.05 L267.65 486.37 L267.9 485.72 L268.15 485.1 L268.4 484.49 L268.65 483.91 L268.9 483.34 L269.15 482.8 L269.4 482.28 L269.65 481.77 L269.9 481.28 L270.15 480.82 L270.4 480.37 L270.65 479.93 L270.9 479.52 L271.15 479.12 L271.4 478.74 L271.65 478.37 L271.9 478.02 L272.15 477.68 L272.4 477.36 L272.65 477.06 L272.9 476.77 L273.15 476.49 L273.4 476.23 L273.65 475.98 L273.9 475.75 L274.15 475.53 L274.4 475.32 L274.65 475.13 L274.9 474.95 L275.15 474.78 L275.4 474.63 L275.65 474.49 L275.9 474.36 L276.15 474.25 L276.4 474.15 L276.65 474.06 L276.9 473.98 L277.15 473.91 L277.4 473.86 L277.65 473.82 L277.9 473.8 L278.15 473.78 L278.4 473.78 L278.65 473.79 L278.9 473.81 L279.15 473.84 L279.4 473.89 L279.65 473.95 L279.9 474.02 L280.15 474.1 L280.4 474.2 L280.65 474.3 L280.9 474.43 L281.15 474.56 L281.4 474.7 L281.65 474.86 L281.9 475.03 L282.15 475.22 L282.4 475.41 L282.65 475.62 L282.9 475.85 L283.15 476.08 L283.4 476.33 L283.65 476.59 L283.9 476.87 L284.15 477.16 L284.4 477.47 L284.65 477.78 L284.9 478.12 L285.15 478.47 L285.4 478.83 L285.65 479.21 L285.9 479.6 L286.15 480.01 L286.4 480.43 L286.65 480.87 L286.9 481.33 L287.15 481.81 L287.4 482.3 L287.65 482.81 L287.9 483.34 L288.15 483.88 L288.4 484.45 L288.65 485.03 L288.9 485.64 L289.15 486.26 L289.4 486.91 L289.65 487.57 L289.9 488.26 L290.15 488.98 L290.4 489.71 L290.65 490.48 L290.9 491.26 L291.15 492.08 L291.4 492.92 L291.65 493.79 L291.9 494.69 L292.15 495.62 L292.4 496.58 L292.65 497.58 L292.9 498.61 L293.15 499.67 L293.4 500.78 L293.65 501.93 L293.9 503.12 L294.15 504.35 L294.4 505.63 L294.65 506.96 L294.9 508.34 L295.15 509.78 L295.4 511.28 L295.65 512.85 L295.9 514.48 L296.15 516.18 L296.4 517.96 L296.65 519.83 L296.9 521.78 L297.15 523.84 L297.4 525.99 L297.65 528.26 L297.9 530.65 L298.15 533.17 L298.4 535.83 L298.65 538.64 L298.9 541.61 L299.15 544.75 L299.4 548.04 L299.65 551.5 L299.9 555.07 L300.15 558.71 L300.4 562.32 L300.65 565.72 L300.9 568.67 L301.15 570.85 L301.4 571.97 L301.65 571.82 L301.9 570.34 L302.15 567.77 L302.4 564.49 L302.65 560.83 L302.9 557.03 L303.15 553.27 L303.4 549.62 L303.65 546.13 L303.9 542.83 L304.15 539.7 L304.4 536.75 L304.65 533.97 L304.9 531.35 L305.15 528.87 L305.4 526.53 L305.65 524.31 L305.9 522.21 L306.15 520.21 L306.4 518.31 L306.65 516.5 L306.9 514.78 L307.15 513.13 L307.4 511.56 L307.65 510.06 L307.9 508.62 L308.15 507.24 L308.4 505.91 L308.65 504.64 L308.9 503.42 L309.15 502.25 L309.4 501.13 L309.65 500.04 L309.9 499 L310.15 498 L310.4 497.03 L310.65 496.1 L310.9 495.2 L311.15 494.33 L311.4 493.5 L311.65 492.7 L311.9 491.92 L312.15 491.17 L312.4 490.45 L312.65 489.76 L312.9 489.09 L313.15 488.45 L313.4 487.83 L313.65 487.23 L313.9 486.65 L314.15 486.1 L314.4 485.57 L314.65 485.05 L314.9 484.56 L315.15 484.09 L315.4 483.63 L315.65 483.2 L315.9 482.78 L316.15 482.38 L316.4 482 L316.65 481.64 L316.9 481.29 L317.15 480.96 L317.4 480.65 L317.65 480.35 L317.9 480.07 L318.15 479.8 L318.4 479.55 L318.65 479.31 L318.9 479.09 L319.15 478.88 L319.4 478.69 L319.65 478.52 L319.9 478.35 L320.15 478.21 L320.4 478.07 L320.65 477.95 L320.9 477.85 L321.15 477.76 L321.4 477.68 L321.65 477.61 L321.9 477.56 L322.15 477.53 L322.4 477.5 L322.65 477.49 L322.9 477.5 L323.15 477.52 L323.4 477.55 L323.65 477.59 L323.9 477.65 L324.15 477.72 L324.4 477.81 L324.65 477.91 L324.9 478.02 L325.15 478.15 L325.4 478.29 L325.65 478.45 L325.9 478.62 L326.15 478.8 L326.4 479 L326.65 479.21 L326.9 479.44 L327.15 479.68 L327.4 479.93 L327.65 480.2 L327.9 480.49 L328.15 480.79 L328.4 481.11 L328.65 481.44 L328.9 481.79 L329.15 482.16 L329.4 482.54 L329.65 482.94 L329.9 483.36 L330.15 483.79 L330.4 484.24 L330.65 484.71 L330.9 485.2 L331.15 485.7 L331.4 486.23 L331.65 486.78 L331.9 487.34 L332.15 487.93 L332.4 488.54 L332.65 489.17 L332.9 489.83 L333.15 490.5 L333.4 491.21 L333.65 491.93 L333.9 492.69 L334.15 493.46 L334.4 494.27 L334.65 495.11 L334.9 495.97 L335.15 496.87 L335.4 497.79 L335.65 498.76 L335.9 499.75 L336.15 500.79 L336.4 501.86 L336.65 502.97 L336.9 504.12 L337.15 505.32 L337.4 506.56 L337.65 507.86 L337.9 509.21 L338.15 510.61 L338.4 512.07 L338.65 513.59 L338.9 515.18 L339.15 516.84 L339.4 518.58 L339.65 520.4 L339.9 522.3 L340.15 524.31 L340.4 526.41 L340.65 528.62 L340.9 530.95 L341.15 533.41 L341.4 536.01 L341.65 538.76 L341.9 541.66 L342.15 544.73 L342.4 547.96 L342.65 551.35 L342.9 554.89 L343.15 558.53 L343.4 562.18 L343.65 565.71 L343.9 568.9 L344.15 571.46 L344.4 573.06 L344.65 573.46 L344.9 572.71 L345.15 570.93 L345.4 568.37 L345.65 565.3 L345.9 561.96 L346.15 558.53 L346.4 555.12 L346.65 551.81 L346.9 548.61 L347.15 545.56 L347.4 542.67 L347.65 539.92 L347.9 537.31 L348.15 534.84 L348.4 532.49 L348.65 530.26 L348.9 528.15 L349.15 526.13 L349.4 524.21 L349.65 522.38 L349.9 520.64 L350.15 518.97 L350.4 517.37 L350.65 515.84 L350.9 514.37 L351.15 512.97 L351.4 511.62 L351.65 510.32 L351.9 509.07 L352.15 507.87 L352.4 506.72 L352.65 505.6 L352.9 504.53 L353.15 503.5 L353.4 502.5 L353.65 501.54 L353.9 500.61 L354.15 499.71 L354.4 498.85 L354.65 498.01 L354.9 497.21 L355.15 496.43 L355.4 495.67 L355.65 494.95 L355.9 494.24 L356.15 493.57 L356.4 492.91 L356.65 492.28 L356.9 491.67 L357.15 491.08 L357.4 490.51 L357.65 489.96 L357.9 489.43 L358.15 488.92 L358.4 488.42 L358.65 487.95 L358.9 487.49 L359.15 487.05 L359.4 486.63 L359.65 486.22 L359.9 485.83 L360.15 485.46 L360.4 485.1 L360.65 484.76 L360.9 484.43 L361.15 484.12 L361.4 483.82 L361.65 483.54 L361.9 483.27 L362.15 483.01 L362.4 482.77 L362.65 482.54 L362.9 482.33 L363.15 482.13 L363.4 481.94 L363.65 481.76 L363.9 481.6 L364.15 481.45 L364.4 481.32 L364.65 481.19 L364.9 481.08 L365.15 480.98 L365.4 480.9 L365.65 480.83 L365.9 480.77 L366.15 480.72 L366.4 480.68 L366.65 480.66 L366.9 480.65 L367.15 480.65 L367.4 480.66 L367.65 480.68 L367.9 480.72 L368.15 480.77 L368.4 480.83 L368.65 480.91 L368.9 480.99 L369.15 481.09 L369.4 481.2 L369.65 481.33 L369.9 481.46 L370.15 481.61 L370.4 481.77 L370.65 481.95 L370.9 482.13 L371.15 482.33 L371.4 482.55 L371.65 482.77 L371.9 483.01 L372.15 483.26 L372.4 483.53 L372.65 483.81 L372.9 484.11 L373.15 484.41 L373.4 484.74 L373.65 485.07 L373.9 485.43 L374.15 485.79 L374.4 486.18 L374.65 486.57 L374.9 486.99 L375.15 487.42 L375.4 487.86 L375.65 488.33 L375.9 488.81 L376.15 489.31 L376.4 489.82 L376.65 490.36 L376.9 490.91 L377.15 491.48 L377.4 492.07 L377.65 492.68 L377.9 493.32 L378.15 493.97 L378.4 494.65 L378.65 495.35 L378.9 496.07 L379.15 496.82 L379.4 497.59 L379.65 498.39 L379.9 499.22 L380.15 500.07 L380.4 500.96 L380.65 501.87 L380.9 502.82 L381.15 503.8 L381.4 504.81 L381.65 505.86 L381.9 506.95 L382.15 508.08 L382.4 509.25 L382.65 510.47 L382.9 511.73 L383.15 513.04 L383.4 514.41 L383.65 515.83 L383.9 517.31 L384.15 518.85 L384.4 520.46 L384.65 522.14 L384.9 523.9 L385.15 525.75 L385.4 527.68 L385.65 529.71 L385.9 531.85 L386.15 534.1 L386.4 536.47 L386.65 538.98 L386.9 541.64 L387.15 544.46 L387.4 547.45 L387.65 550.62 L387.9 553.98 L388.15 557.54 L388.4 561.28 L388.65 565.16 L388.9 569.13 L389.15 573.02 L389.4 576.61 L389.65 579.56 L389.9 581.45 L390.15 581.94 L390.4 580.91 L390.65 578.55 L390.9 575.27 L391.15 571.48 L391.4 567.49 L391.65 563.51 L391.9 559.65 L392.15 555.96 L392.4 552.47 L392.65 549.19 L392.9 546.09 L393.15 543.18 L393.4 540.44 L393.65 537.86 L393.9 535.42 L394.15 533.12 L394.4 530.94 L394.65 528.87 L394.9 526.9 L395.15 525.03 L395.4 523.25 L395.65 521.54 L395.9 519.92 L396.15 518.37 L396.4 516.88 L396.65 515.45 L396.9 514.09 L397.15 512.77 L397.4 511.51 L397.65 510.3 L397.9 509.14 L398.15 508.02 L398.4 506.94 L398.65 505.9 L398.9 504.9 L399.15 503.93 L399.4 503 L399.65 502.1 L399.9 501.23 L400.15 500.39 L400.4 499.59 L400.65 498.81 L400.9 498.05 L401.15 497.33 L401.4 496.63 L401.65 495.95 L401.9 495.29 L402.15 494.66 L402.4 494.06 L402.65 493.47 L402.9 492.9 L403.15 492.36 L403.4 491.83 L403.65 491.32 L403.9 490.84 L404.15 490.37 L404.4 489.92 L404.65 489.48 L404.9 489.07 L405.15 488.67 L405.4 488.28 L405.65 487.92 L405.9 487.57 L406.15 487.23 L406.4 486.91 L406.65 486.61 L406.9 486.32 L407.15 486.04 L407.4 485.78 L407.65 485.54 L407.9 485.31 L408.15 485.09 L408.4 484.89 L408.65 484.7 L408.9 484.52 L409.15 484.36 L409.4 484.21 L409.65 484.07 L409.9 483.95 L410.15 483.84 L410.4 483.74 L410.65 483.66 L410.9 483.59 L411.15 483.53 L411.4 483.48 L411.65 483.45 L411.9 483.43 L412.15 483.43 L412.4 483.43 L412.65 483.45 L412.9 483.48 L413.15 483.52 L413.4 483.58 L413.65 483.65 L413.9 483.73 L414.15 483.83 L414.4 483.93 L414.65 484.05 L414.9 484.19 L415.15 484.33 L415.4 484.49 L415.65 484.67 L415.9 484.85 L416.15 485.05 L416.4 485.26 L416.65 485.49 L416.9 485.73 L417.15 485.99 L417.4 486.26 L417.65 486.54 L417.9 486.84 L418.15 487.15 L418.4 487.48 L418.65 487.82 L418.9 488.18 L419.15 488.55 L419.4 488.94 L419.65 489.35 L419.9 489.77 L420.15 490.21 L420.4 490.66 L420.65 491.14 L420.9 491.63 L421.15 492.14 L421.4 492.67 L421.65 493.21 L421.9 493.78 L422.15 494.37 L422.4 494.98 L422.65 495.61 L422.9 496.26 L423.15 496.93 L423.4 497.63 L423.65 498.35 L423.9 499.1 L424.15 499.87 L424.4 500.67 L424.65 501.5 L424.9 502.36 L425.15 503.25 L425.4 504.16 L425.65 505.11 L425.9 506.1 L426.15 507.12 L426.4 508.18 L426.65 509.28 L426.9 510.42 L427.15 511.6 L427.4 512.83 L427.65 514.1 L427.9 515.43 L428.15 516.81 L428.4 518.26 L428.65 519.76 L428.9 521.33 L429.15 522.97 L429.4 524.69 L429.65 526.49 L429.9 528.38 L430.15 530.36 L430.4 532.45 L430.65 534.66 L430.9 536.99 L431.15 539.45 L431.4 542.07 L431.65 544.86 L431.9 547.83 L432.15 551 L432.4 554.39 L432.65 558.03 L432.9 561.92 L433.15 566.07 L433.4 570.46 L433.65 575.03 L433.9 579.62 L434.15 583.93 L434.4 587.48 L434.65 589.63 L434.9 589.87 L435.15 588.19 L435.4 585.03 L435.65 580.98 L435.9 576.55 L436.15 572.07 L436.4 567.72 L436.65 563.59 L436.9 559.71 L437.15 556.08 L437.4 552.68 L437.65 549.51 L437.9 546.54 L438.15 543.75 L438.4 541.13 L438.65 538.66 L438.9 536.34 L439.15 534.14 L439.4 532.05 L439.65 530.07 L439.9 528.19 L440.15 526.4 L440.4 524.69 L440.65 523.06 L440.9 521.5 L441.15 520.01 L441.4 518.58 L441.65 517.21 L441.9 515.89 L442.15 514.63 L442.4 513.41 L442.65 512.24 L442.9 511.12 L443.15 510.03 L443.4 508.99 L443.65 507.98 L443.9 507.01 L444.15 506.07 L444.4 505.17 L444.65 504.3 L444.9 503.45 L445.15 502.64 L445.4 501.85 L445.65 501.1 L445.9 500.36 L446.15 499.65 L446.4 498.97 L446.65 498.31 L446.9 497.67 L447.15 497.05 L447.4 496.46 L447.65 495.89 L447.9 495.33 L448.15 494.8 L448.4 494.28 L448.65 493.78 L448.9 493.31 L449.15 492.84 L449.4 492.4 L449.65 491.97 L449.9 491.56 L450.15 491.17 L450.4 490.79 L450.65 490.43 L450.9 490.08 L451.15 489.75 L451.4 489.44 L451.65 489.13 L451.9 488.85 L452.15 488.57 L452.4 488.31 L452.65 488.07 L452.9 487.84 L453.15 487.62 L453.4 487.42 L453.65 487.22 L453.9 487.05 L454.15 486.88 L454.4 486.73 L454.65 486.59 L454.9 486.46 L455.15 486.35 L455.4 486.25 L455.65 486.16 L455.9 486.08 L456.15 486.02 L456.4 485.96 L456.65 485.92 L456.9 485.9 L457.15 485.88 L457.4 485.88 L457.65 485.89 L457.9 485.91 L458.15 485.94 L458.4 485.99 L458.65 486.05 L458.9 486.12 L459.15 486.2 L459.4 486.29 L459.65 486.4 L459.9 486.52 L460.15 486.65 L460.4 486.8 L460.65 486.96 L460.9 487.13 L461.15 487.31 L461.4 487.5 L461.65 487.71 L461.9 487.94 L462.15 488.17 L462.4 488.42 L462.65 488.68 L462.9 488.96 L463.15 489.25 L463.4 489.55 L463.65 489.87 L463.9 490.21 L464.15 490.55 L464.4 490.92 L464.65 491.3 L464.9 491.69 L465.15 492.1 L465.4 492.53 L465.65 492.97 L465.9 493.43 L466.15 493.9 L466.4 494.4 L466.65 494.91 L466.9 495.44 L467.15 495.99 L467.4 496.56 L467.65 497.14 L467.9 497.75 L468.15 498.38 L468.4 499.03 L468.65 499.7 L468.9 500.4 L469.15 501.12 L469.4 501.86 L469.65 502.63 L469.9 503.43 L470.15 504.25 L470.4 505.1 L470.65 505.98 L470.9 506.89 L471.15 507.84 L471.4 508.81 L471.65 509.82 L471.9 510.87 L472.15 511.96 L472.4 513.08 L472.65 514.25 L472.9 515.47 L473.15 516.73 L473.4 518.04 L473.65 519.4 L473.9 520.82 L474.15 522.3 L474.4 523.85 L474.65 525.46 L474.9 527.15 L475.15 528.92 L475.4 530.77 L475.65 532.72 L475.9 534.77 L476.15 536.93 L476.4 539.21 L476.65 541.62 L476.9 544.17 L477.15 546.89 L477.4 549.78 L477.65 552.87 L477.9 556.16 L478.15 559.69 L478.4 563.47 L478.65 567.5 L478.9 571.78 L479.15 576.26 L479.4 580.83 L479.65 585.25 L479.9 589.11 L480.15 591.84 L480.4 592.84 L480.65 591.83 L480.9 589.1 L481.15 585.23 L481.4 580.81 L481.65 576.24 L481.9 571.77 L482.15 567.5 L482.4 563.49 L482.65 559.73 L482.9 556.23 L483.15 552.95 L483.4 549.89 L483.65 547.02 L483.9 544.33 L484.15 541.8 L484.4 539.41 L484.65 537.16 L484.9 535.02 L485.15 533 L485.4 531.08 L485.65 529.25 L485.9 527.5 L486.15 525.84 L486.4 524.25 L486.65 522.73 L486.9 521.28 L487.15 519.88 L487.4 518.54 L487.65 517.26 L487.9 516.02 L488.15 514.83 L488.4 513.69 L488.65 512.59 L488.9 511.53 L489.15 510.51 L489.4 509.52 L489.65 508.57 L489.9 507.65 L490.15 506.77 L490.4 505.91 L490.65 505.09 L490.9 504.29 L491.15 503.52 L491.4 502.78 L491.65 502.06 L491.9 501.37 L492.15 500.7 L492.4 500.05 L492.65 499.43 L492.9 498.83 L493.15 498.24 L493.4 497.68 L493.65 497.14 L493.9 496.62 L494.15 496.12 L494.4 495.63 L494.65 495.16 L494.9 494.71 L495.15 494.28 L495.4 493.87 L495.65 493.47 L495.9 493.09 L496.15 492.72 L496.4 492.37 L496.65 492.03 L496.9 491.71 L497.15 491.4 L497.4 491.11 L497.65 490.84 L497.9 490.57 L498.15 490.32 L498.4 490.09 L498.65 489.87 L498.9 489.66 L499.15 489.47 L499.4 489.28 L499.65 489.12 L499.9 488.96 L500.15 488.82 L500.4 488.69 L500.65 488.57 L500.9 488.47 L501.15 488.38 L501.4 488.3 L501.65 488.23 L501.9 488.18 L502.15 488.14 L502.4 488.11 L502.65 488.09 L502.9 488.09 L503.15 488.09 L503.4 488.11 L503.65 488.15 L503.9 488.19 L504.15 488.25 L504.4 488.32 L504.65 488.4 L504.9 488.49 L505.15 488.6 L505.4 488.72 L505.65 488.85 L505.9 489 L506.15 489.15 L506.4 489.33 L506.65 489.51 L506.9 489.7 L507.15 489.91 L507.4 490.14 L507.65 490.37 L507.9 490.62 L508.15 490.89 L508.4 491.16 L508.65 491.45 L508.9 491.76 L509.15 492.08 L509.4 492.42 L509.65 492.77 L509.9 493.13 L510.15 493.51 L510.4 493.91 L510.65 494.32 L510.9 494.75 L511.15 495.19 L511.4 495.65 L511.65 496.13 L511.9 496.63 L512.15 497.14 L512.4 497.68 L512.65 498.23 L512.9 498.8 L513.15 499.39 L513.4 500 L513.65 500.64 L513.9 501.29 L514.15 501.97 L514.4 502.67 L514.65 503.4 L514.9 504.15 L515.15 504.92 L515.4 505.72 L515.65 506.55 L515.9 507.41 L516.15 508.3 L516.4 509.22 L516.65 510.17 L516.9 511.15 L517.15 512.17 L517.4 513.23 L517.65 514.32 L517.9 515.46 L518.15 516.64 L518.4 517.87 L518.65 519.14 L518.9 520.46 L519.15 521.84 L519.4 523.27 L519.65 524.77 L519.9 526.33 L520.15 527.96 L520.4 529.66 L520.65 531.45 L520.9 533.32 L521.15 535.29 L521.4 537.35 L521.65 539.53 L521.9 541.83 L522.15 544.26 L522.4 546.83 L522.65 549.56 L522.9 552.45 L523.15 555.54 L523.4 558.82 L523.65 562.31 L523.9 566.02 L524.15 569.94 L524.4 574.03 L524.65 578.21 L524.9 582.31 L525.15 586.07 L525.4 589.06 L525.65 590.82 L525.9 590.99 L526.15 589.54 L526.4 586.77 L526.65 583.16 L526.9 579.13 L527.15 574.98 L527.4 570.89 L527.65 566.97 L527.9 563.24 L528.15 559.74 L528.4 556.44 L528.65 553.34 L528.9 550.44 L529.15 547.7 L529.4 545.12 L529.65 542.69 L529.9 540.39 L530.15 538.22 L530.4 536.15 L530.65 534.19" stroke-width="1.3"/>
<path d="M55.4 398.59 L55.65 400.56 L55.9 402.33 L56.15 403.93 L56.4 405.4 L56.65 406.77 L56.9 408.04 L57.15 409.25 L57.4 410.39 L57.65 411.47 L57.9 412.52 L58.15 413.52 L58.4 414.49 L58.65 415.43 L58.9 416.34 L59.15 417.24 L59.4 418.11 L59.65 418.97 L59.9 419.81 L60.15 420.65 L60.4 421.47 L60.65 422.28 L60.9 423.08 L61.15 423.87 L61.4 424.66 L61.65 425.44 L61.9 426.22 L62.15 426.99 L62.4 427.76 L62.65 428.52 L62.9 429.28 L63.15 430.04 L63.4 430.8 L63.65 431.55 L63.9 432.3 L64.15 433.05 L64.4 433.8 L64.65 434.55 L64.9 435.29 L65.15 436.03 L65.4 436.77 L65.65 437.51 L65.9 438.24 L66.15 438.97 L66.4 439.7 L66.65 440.42 L66.9 441.14 L67.15 441.86 L67.4 442.57 L67.65 443.28 L67.9 443.98 L68.15 444.68 L68.4 445.37 L68.65 446.05 L68.9 446.72 L69.15 447.38 L69.4 448.04 L69.65 448.69 L69.9 449.32 L70.15 449.94 L70.4 450.55 L70.65 451.15 L70.9 451.73 L71.15 452.3 L71.4 452.85 L71.65 453.38 L71.9 453.9 L72.15 454.4 L72.4 454.88 L72.65 455.34 L72.9 455.77 L73.15 456.19 L73.4 456.58 L73.65 456.95 L73.9 457.3 L74.15 457.63 L74.4 457.93 L74.65 458.21 L74.9 458.46 L75.15 458.69 L75.4 458.89 L75.65 459.08 L75.9 459.24 L76.15 459.37 L76.4 459.49 L76.65 459.59 L76.9 459.66 L77.15 459.72 L77.4 459.75 L77.65 459.77 L77.9 459.77 L78.15 459.75 L78.4 459.71 L78.65 459.66 L78.9 459.6 L79.15 459.52 L79.4 459.42 L79.65 459.32 L79.9 459.2 L80.15 459.07 L80.4 458.94 L80.65 458.79 L80.9 458.63 L81.15 458.47 L81.4 458.3 L81.65 458.13 L81.9 457.95 L82.15 457.77 L82.4 457.58 L82.65 457.39 L82.9 457.2 L83.15 457 L83.4 456.81 L83.65 456.61 L83.9 456.41 L84.15 456.22 L84.4 456.02 L84.65 455.82 L84.9 455.63 L85.15 455.44 L85.4 455.25 L85.65 455.06 L85.9 454.88 L86.15 454.69 L86.4 454.52 L86.65 454.34 L86.9 454.17 L87.15 454 L87.4 453.84 L87.65 453.68 L87.9 453.53 L88.15 453.38 L88.4 453.24 L88.65 453.1 L88.9 452.97 L89.15 452.84 L89.4 452.71 L89.65 452.6 L89.9 452.49 L90.15 452.38 L90.4 452.28 L90.65 452.19 L90.9 452.1 L91.15 452.01 L91.4 451.94 L91.65 451.87 L91.9 451.8 L92.15 451.75 L92.4 451.69 L92.65 451.65 L92.9 451.61 L93.15 451.58 L93.4 451.55 L93.65 451.53 L93.9 451.52 L94.15 451.51 L94.4 451.51 L94.65 451.52 L94.9 451.53 L95.15 451.55 L95.4 451.58 L95.65 451.61 L95.9 451.65 L96.15 451.69 L96.4 451.74 L96.65 451.8 L96.9 451.87 L97.15 451.94 L97.4 452.02 L97.65 452.1 L97.9 452.2 L98.15 452.3 L98.4 452.4 L98.65 452.51 L98.9 452.63 L99.15 452.76 L99.4 452.9 L99.65 453.04 L99.9 453.2 L100.15 453.36 L100.4 453.53 L100.65 453.71 L100.9 453.9 L101.15 454.09 L101.4 454.3 L101.65 454.51 L101.9 454.73 L102.15 454.96 L102.4 455.2 L102.65 455.44 L102.9 455.7 L103.15 455.96 L103.4 456.23 L103.65 456.51 L103.9 456.8 L104.15 457.09 L104.4 457.4 L104.65 457.71 L104.9 458.03 L105.15 458.36 L105.4 458.7 L105.65 459.04 L105.9 459.4 L106.15 459.76 L106.4 460.13 L106.65 460.5 L106.9 460.89 L107.15 461.28 L107.4 461.68 L107.65 462.08 L107.9 462.5 L108.15 462.92 L108.4 463.34 L108.65 463.78 L108.9 464.22 L109.15 464.66 L109.4 465.12 L109.65 465.57 L109.9 466.04 L110.15 466.51 L110.4 466.98 L110.65 467.46 L110.9 467.94 L111.15 468.42 L111.4 468.91 L111.65 469.4 L111.9 469.89 L112.15 470.39 L112.4 470.88 L112.65 471.37 L112.9 471.87 L113.15 472.36 L113.4 472.85 L113.65 473.34 L113.9 473.82 L114.15 474.3 L114.4 474.77 L114.65 475.24 L114.9 475.7 L115.15 476.15 L115.4 476.59 L115.65 477.02 L115.9 477.44 L116.15 477.84 L116.4 478.23 L116.65 478.6 L116.9 478.96 L117.15 479.3 L117.4 479.62 L117.65 479.93 L117.9 480.21 L118.15 480.46 L118.4 480.7 L118.65 480.92 L118.9 481.1 L119.15 481.27 L119.4 481.41 L119.65 481.53 L119.9 481.62 L120.15 481.68 L120.4 481.73 L120.65 481.75 L120.9 481.75 L121.15 481.73 L121.4 481.69 L121.65 481.63 L121.9 481.54 L122.15 481.44 L122.4 481.32 L122.65 481.18 L122.9 481.03 L123.15 480.86 L123.4 480.67 L123.65 480.47 L123.9 480.25 L124.15 480.03 L124.4 479.79 L124.65 479.54 L124.9 479.28 L125.15 479.01 L125.4 478.73 L125.65 478.45 L125.9 478.16 L126.15 477.87 L126.4 477.57 L126.65 477.27 L126.9 476.96 L127.15 476.65 L127.4 476.34 L127.65 476.03 L127.9 475.72 L128.15 475.41 L128.4 475.1 L128.65 474.79 L128.9 474.48 L129.15 474.17 L129.4 473.87 L129.65 473.57 L129.9 473.27 L130.15 472.98 L130.4 472.69 L130.65 472.41 L130.9 472.13 L131.15 471.85 L131.4 471.58 L131.65 471.32 L131.9 471.06 L132.15 470.8 L132.4 470.56 L132.65 470.32 L132.9 470.08 L133.15 469.85 L133.4 469.63 L133.65 469.41 L133.9 469.21 L134.15 469 L134.4 468.81 L134.65 468.62 L134.9 468.44 L135.15 468.27 L135.4 468.1 L135.65 467.94 L135.9 467.79 L136.15 467.64 L136.4 467.51 L136.65 467.38 L136.9 467.26 L137.15 467.14 L137.4 467.03 L137.65 466.93 L137.9 466.84 L138.15 466.76 L138.4 466.68 L138.65 466.61 L138.9 466.55 L139.15 466.5 L139.4 466.45 L139.65 466.41 L139.9 466.38 L140.15 466.36 L140.4 466.34 L140.65 466.33 L140.9 466.33 L141.15 466.34 L141.4 466.36 L141.65 466.38 L141.9 466.41 L142.15 466.45 L142.4 466.5 L142.65 466.55 L142.9 466.61 L143.15 466.68 L143.4 466.76 L143.65 466.84 L143.9 466.94 L144.15 467.04 L144.4 467.15 L144.65 467.26 L144.9 467.39 L145.15 467.52 L145.4 467.66 L145.65 467.8 L145.9 467.96 L146.15 468.12 L146.4 468.29 L146.65 468.47 L146.9 468.65 L147.15 468.84 L147.4 469.05 L147.65 469.25 L147.9 469.47 L148.15 469.69 L148.4 469.92 L148.65 470.16 L148.9 470.41 L149.15 470.66 L149.4 470.92 L149.65 471.19 L149.9 471.47 L150.15 471.75 L150.4 472.04 L150.65 472.34 L150.9 472.64 L151.15 472.95 L151.4 473.27 L151.65 473.6 L151.9 473.93 L152.15 474.27 L152.4 474.62 L152.65 474.97 L152.9 475.33 L153.15 475.69 L153.4 476.06 L153.65 476.44 L153.9 476.82 L154.15 477.21 L154.4 477.6 L154.65 478 L154.9 478.4 L155.15 478.81 L155.4 479.22 L155.65 479.64 L155.9 480.05 L156.15 480.48 L156.4 480.9 L156.65 481.33 L156.9 481.76 L157.15 482.19 L157.4 482.62 L157.65 483.05 L157.9 483.48 L158.15 483.91 L158.4 484.33 L158.65 484.76 L158.9 485.18 L159.15 485.6 L159.4 486.02 L159.65 486.43 L159.9 486.83 L160.15 487.23 L160.4 487.61 L160.65 487.99 L160.9 488.37 L161.15 488.73 L161.4 489.07 L161.65 489.41 L161.9 489.73 L162.15 490.04 L162.4 490.33 L162.65 490.61 L162.9 490.87 L163.15 491.11 L163.4 491.34 L163.65 491.54 L163.9 491.73 L164.15 491.89 L164.4 492.04 L164.65 492.16 L164.9 492.26 L165.15 492.34 L165.4 492.4 L165.65 492.43 L165.9 492.44 L166.15 492.43 L166.4 492.4 L166.65 492.35 L166.9 492.28 L167.15 492.18 L167.4 492.07 L167.65 491.94 L167.9 491.79 L168.15 491.62 L168.4 491.43 L168.65 491.23 L168.9 491.01 L169.15 490.78 L169.4 490.53 L169.65 490.27 L169.9 490 L170.15 489.72 L170.4 489.43 L170.65 489.13 L170.9 488.83 L171.15 488.52 L171.4 488.2 L171.65 487.87 L171.9 487.54 L172.15 487.21 L172.4 486.88 L172.65 486.54 L172.9 486.2 L173.15 485.86 L173.4 485.52 L173.65 485.18 L173.9 484.84 L174.15 484.51 L174.4 484.17 L174.65 483.84 L174.9 483.51 L175.15 483.18 L175.4 482.86 L175.65 482.54 L175.9 482.23 L176.15 481.92 L176.4 481.61 L176.65 481.31 L176.9 481.02 L177.15 480.73 L177.4 480.44 L177.65 480.17 L177.9 479.9 L178.15 479.63 L178.4 479.37 L178.65 479.12 L178.9 478.87 L179.15 478.64 L179.4 478.41 L179.65 478.18 L179.9 477.96 L180.15 477.75 L180.4 477.55 L180.65 477.36 L180.9 477.17 L181.15 476.99 L181.4 476.81 L181.65 476.65 L181.9 476.49 L182.15 476.34 L182.4 476.2 L182.65 476.06 L182.9 475.94 L183.15 475.82 L183.4 475.7 L183.65 475.6 L183.9 475.5 L184.15 475.42 L184.4 475.34 L184.65 475.26 L184.9 475.2 L185.15 475.14 L185.4 475.09 L185.65 475.05 L185.9 475.02 L186.15 474.99 L186.4 474.97 L186.65 474.96 L186.9 474.96 L187.15 474.97 L187.4 474.98 L187.65 475 L187.9 475.03 L188.15 475.07 L188.4 475.12 L188.65 475.17 L188.9 475.23 L189.15 475.3 L189.4 475.38 L189.65 475.46 L189.9 475.56 L190.15 475.66 L190.4 475.77 L190.65 475.88 L190.9 476.01 L191.15 476.14 L191.4 476.28 L191.65 476.43 L191.9 476.58 L192.15 476.75 L192.4 476.92 L192.65 477.1 L192.9 477.28 L193.15 477.48 L193.4 477.68 L193.65 477.89 L193.9 478.11 L194.15 478.34 L194.4 478.57 L194.65 478.81 L194.9 479.06 L195.15 479.31 L195.4 479.58 L195.65 479.85 L195.9 480.13 L196.15 480.41 L196.4 480.71 L196.65 481.01 L196.9 481.31 L197.15 481.63 L197.4 481.95 L197.65 482.28 L197.9 482.61 L198.15 482.95 L198.4 483.3 L198.65 483.65 L198.9 484.01 L199.15 484.38 L199.4 484.75 L199.65 485.12 L199.9 485.51 L200.15 485.89 L200.4 486.28 L200.65 486.68 L200.9 487.08 L201.15 487.48 L201.4 487.89 L201.65 488.3 L201.9 488.71 L202.15 489.12 L202.4 489.54 L202.65 489.96 L202.9 490.37 L203.15 490.79 L203.4 491.21 L203.65 491.62 L203.9 492.04 L204.15 492.45 L204.4 492.86 L204.65 493.26 L204.9 493.66 L205.15 494.05 L205.4 494.43 L205.65 494.81 L205.9 495.18 L206.15 495.54 L206.4 495.89 L206.65 496.23 L206.9 496.56 L207.15 496.87 L207.4 497.17 L207.65 497.46 L207.9 497.72 L208.15 497.97 L208.4 498.21 L208.65 498.42 L208.9 498.62 L209.15 498.8 L209.4 498.95 L209.65 499.09 L209.9 499.2 L210.15 499.3 L210.4 499.37 L210.65 499.41 L210.9 499.44 L211.15 499.45 L211.4 499.43 L211.65 499.39 L211.9 499.33 L212.15 499.25 L212.4 499.14 L212.65 499.02 L212.9 498.88 L213.15 498.72 L213.4 498.54 L213.65 498.35 L213.9 498.14 L214.15 497.91 L214.4 497.67 L214.65 497.41 L214.9 497.15 L215.15 496.87 L215.4 496.58 L215.65 496.28 L215.9 495.97 L216.15 495.66 L216.4 495.33 L216.65 495 L216.9 494.67 L217.15 494.33 L217.4 493.99 L217.65 493.64 L217.9 493.29 L218.15 492.94 L218.4 492.59 L218.65 492.24 L218.9 491.89 L219.15 491.54 L219.4 491.2 L219.65 490.85 L219.9 490.51 L220.15 490.16 L220.4 489.83 L220.65 489.49 L220.9 489.16 L221.15 488.83 L221.4 488.51 L221.65 488.19 L221.9 487.88 L222.15 487.58 L222.4 487.27 L222.65 486.98 L222.9 486.69 L223.15 486.4 L223.4 486.13 L223.65 485.86 L223.9 485.59 L224.15 485.33 L224.4 485.08 L224.65 484.84 L224.9 484.6 L225.15 484.37 L225.4 484.15 L225.65 483.94 L225.9 483.73 L226.15 483.53 L226.4 483.33 L226.65 483.15 L226.9 482.97 L227.15 482.8 L227.4 482.64 L227.65 482.48 L227.9 482.33 L228.15 482.19 L228.4 482.06 L228.65 481.94 L228.9 481.82 L229.15 481.71 L229.4 481.61 L229.65 481.52 L229.9 481.43 L230.15 481.35 L230.4 481.28 L230.65 481.22 L230.9 481.17 L231.15 481.12 L231.4 481.08 L231.65 481.05 L231.9 481.03 L232.15 481.02 L232.4 481.01 L232.65 481.01 L232.9 481.02 L233.15 481.04 L233.4 481.06 L233.65 481.09 L233.9 481.13 L234.15 481.18 L234.4 481.24 L234.65 481.3 L234.9 481.38 L235.15 481.46 L235.4 481.54 L235.65 481.64 L235.9 481.74 L236.15 481.85 L236.4 481.97 L236.65 482.1 L236.9 482.24 L237.15 482.38 L237.4 482.53 L237.65 482.69 L237.9 482.85 L238.15 483.03 L238.4 483.21 L238.65 483.4 L238.9 483.6 L239.15 483.8 L239.4 484.02 L239.65 484.24 L239.9 484.46 L240.15 484.7 L240.4 484.94 L240.65 485.19 L240.9 485.45 L241.15 485.72 L241.4 485.99 L241.65 486.27 L241.9 486.56 L242.15 486.85 L242.4 487.15 L242.65 487.46 L242.9 487.78 L243.15 488.1 L243.4 488.43 L243.65 488.76 L243.9 489.11 L244.15 489.45 L244.4 489.81 L244.65 490.16 L244.9 490.53 L245.15 490.9 L245.4 491.27 L245.65 491.65 L245.9 492.04 L246.15 492.43 L246.4 492.82 L246.65 493.22 L246.9 493.61 L247.15 494.02 L247.4 494.42 L247.65 494.83 L247.9 495.23 L248.15 495.64 L248.4 496.05 L248.65 496.46 L248.9 496.87 L249.15 497.27 L249.4 497.68 L249.65 498.08 L249.9 498.47 L250.15 498.87 L250.4 499.25 L250.65 499.63 L250.9 500.01 L251.15 500.37 L251.4 500.73 L251.65 501.08 L251.9 501.41 L252.15 501.74 L252.4 502.05 L252.65 502.35 L252.9 502.64 L253.15 502.91 L253.4 503.16 L253.65 503.39 L253.9 503.61 L254.15 503.81 L254.4 503.99 L254.65 504.15 L254.9 504.29 L255.15 504.41 L255.4 504.51 L255.65 504.59 L255.9 504.64 L256.15 504.67 L256.4 504.68 L256.65 504.67 L256.9 504.64 L257.15 504.58 L257.4 504.51 L257.65 504.41 L257.9 504.29 L258.15 504.15 L258.4 504 L258.65 503.82 L258.9 503.63 L259.15 503.42 L259.4 503.2 L259.65 502.96 L259.9 502.7 L260.15 502.44 L260.4 502.16 L260.65 501.87 L260.9 501.57 L261.15 501.26 L261.4 500.94 L261.65 500.61 L261.9 500.28 L262.15 499.94 L262.4 499.6 L262.65 499.25 L262.9 498.9 L263.15 498.55 L263.4 498.19 L263.65 497.84 L263.9 497.48 L264.15 497.12 L264.4 496.77 L264.65 496.41 L264.9 496.06 L265.15 495.7 L265.4 495.35 L265.65 495.01 L265.9 494.66 L266.15 494.32 L266.4 493.99 L266.65 493.66 L266.9 493.33 L267.15 493.01 L267.4 492.69 L267.65 492.38 L267.9 492.08 L268.15 491.78 L268.4 491.48 L268.65 491.19 L268.9 490.91 L269.15 490.64 L269.4 490.37 L269.65 490.11 L269.9 489.85 L270.15 489.61 L270.4 489.37 L270.65 489.13 L270.9 488.91 L271.15 488.69 L271.4 488.48 L271.65 488.27 L271.9 488.08 L272.15 487.89 L272.4 487.71 L272.65 487.53 L272.9 487.37 L273.15 487.21 L273.4 487.06 L273.65 486.92 L273.9 486.78 L274.15 486.65 L274.4 486.53 L274.65 486.42 L274.9 486.32 L275.15 486.22 L275.4 486.13 L275.65 486.05 L275.9 485.98 L276.15 485.92 L276.4 485.86 L276.65 485.81 L276.9 485.77 L277.15 485.74 L277.4 485.71 L277.65 485.69 L277.9 485.68 L278.15 485.68 L278.4 485.69 L278.65 485.7 L278.9 485.72 L279.15 485.75 L279.4 485.79 L279.65 485.84 L279.9 485.89 L280.15 485.95 L280.4 486.02 L280.65 486.1 L280.9 486.19 L281.15 486.28 L281.4 486.38 L281.65 486.49 L281.9 486.61 L282.15 486.73 L282.4 486.86 L282.65 487 L282.9 487.15 L283.15 487.31 L283.4 487.47 L283.65 487.64 L283.9 487.82 L284.15 488.01 L284.4 488.21 L284.65 488.41 L284.9 488.62 L285.15 488.84 L285.4 489.06 L285.65 489.3 L285.9 489.54 L286.15 489.79 L286.4 490.04 L286.65 490.31 L286.9 490.58 L287.15 490.85 L287.4 491.14 L287.65 491.43 L287.9 491.73 L288.15 492.04 L288.4 492.35 L288.65 492.67 L288.9 492.99 L289.15 493.33 L289.4 493.66 L289.65 494.01 L289.9 494.36 L290.15 494.72 L290.4 495.08 L290.65 495.44 L290.9 495.82 L291.15 496.19 L291.4 496.57 L291.65 496.96 L291.9 497.35 L292.15 497.74 L292.4 498.13 L292.65 498.53 L292.9 498.93 L293.15 499.33 L293.4 499.74 L293.65 500.14 L293.9 500.54 L294.15 500.95 L294.4 501.35 L294.65 501.75 L294.9 502.15 L295.15 502.54 L295.4 502.93 L295.65 503.31 L295.9 503.69 L296.15 504.07 L296.4 504.43 L296.65 504.79 L296.9 505.14 L297.15 505.48 L297.4 505.81 L297.65 506.12 L297.9 506.42 L298.15 506.71 L298.4 506.99 L298.65 507.24 L298.9 507.49 L299.15 507.71 L299.4 507.92 L299.65 508.1 L299.9 508.27 L300.15 508.42 L300.4 508.55 L300.65 508.65 L300.9 508.74 L301.15 508.8 L301.4 508.84 L301.65 508.86 L301.9 508.85 L302.15 508.82 L302.4 508.77 L302.65 508.69 L302.9 508.59 L303.15 508.46 L303.4 508.32 L303.65 508.15 L303.9 507.96 L304.15 507.76 L304.4 507.53 L304.65 507.29 L304.9 507.03 L305.15 506.75 L305.4 506.46 L305.65 506.16 L305.9 505.85 L306.15 505.52 L306.4 505.18 L306.65 504.84 L306.9 504.49 L307.15 504.13 L307.4 503.76 L307.65 503.39 L307.9 503.02 L308.15 502.64 L308.4 502.26 L308.65 501.88 L308.9 501.5 L309.15 501.12 L309.4 500.73 L309.65 500.35 L309.9 499.98 L310.15 499.6 L310.4 499.23 L310.65 498.86 L310.9 498.49 L311.15 498.13 L311.4 497.77 L311.65 497.42 L311.9 497.07 L312.15 496.73 L312.4 496.4 L312.65 496.07 L312.9 495.75 L313.15 495.43 L313.4 495.12 L313.65 494.82 L313.9 494.52 L314.15 494.24 L314.4 493.96 L314.65 493.69 L314.9 493.42 L315.15 493.17 L315.4 492.92 L315.65 492.68 L315.9 492.44 L316.15 492.22 L316.4 492 L316.65 491.8 L316.9 491.6 L317.15 491.41 L317.4 491.23 L317.65 491.05 L317.9 490.89 L318.15 490.73 L318.4 490.58 L318.65 490.44 L318.9 490.31 L319.15 490.19 L319.4 490.08 L319.65 489.97 L319.9 489.88 L320.15 489.79 L320.4 489.71 L320.65 489.64 L320.9 489.58 L321.15 489.53 L321.4 489.49 L321.65 489.45 L321.9 489.43 L322.15 489.41 L322.4 489.4 L322.65 489.4 L322.9 489.41 L323.15 489.43 L323.4 489.46 L323.65 489.5 L323.9 489.54 L324.15 489.59 L324.4 489.66 L324.65 489.73 L324.9 489.81 L325.15 489.9 L325.4 489.99 L325.65 490.1 L325.9 490.21 L326.15 490.34 L326.4 490.47 L326.65 490.61 L326.9 490.76 L327.15 490.92 L327.4 491.09 L327.65 491.26 L327.9 491.45 L328.15 491.64 L328.4 491.84 L328.65 492.05 L328.9 492.27 L329.15 492.5 L329.4 492.73 L329.65 492.98 L329.9 493.23 L330.15 493.49 L330.4 493.76 L330.65 494.03 L330.9 494.32 L331.15 494.61 L331.4 494.91 L331.65 495.22 L331.9 495.54 L332.15 495.86 L332.4 496.2 L332.65 496.53 L332.9 496.88 L333.15 497.23 L333.4 497.59 L333.65 497.96 L333.9 498.33 L334.15 498.71 L334.4 499.09 L334.65 499.48 L334.9 499.88 L335.15 500.28 L335.4 500.68 L335.65 501.09 L335.9 501.5 L336.15 501.91 L336.4 502.33 L336.65 502.75 L336.9 503.17 L337.15 503.59 L337.4 504.01 L337.65 504.43 L337.9 504.85 L338.15 505.26 L338.4 505.68 L338.65 506.09 L338.9 506.49 L339.15 506.89 L339.4 507.28 L339.65 507.67 L339.9 508.04 L340.15 508.41 L340.4 508.77 L340.65 509.11 L340.9 509.44 L341.15 509.76 L341.4 510.06 L341.65 510.34 L341.9 510.61 L342.15 510.86 L342.4 511.09 L342.65 511.3 L342.9 511.49 L343.15 511.66 L343.4 511.8 L343.65 511.92 L343.9 512.02 L344.15 512.09 L344.4 512.14 L344.65 512.17 L344.9 512.17 L345.15 512.15 L345.4 512.11 L345.65 512.05 L345.9 511.96 L346.15 511.86 L346.4 511.73 L346.65 511.59 L346.9 511.43 L347.15 511.25 L347.4 511.05 L347.65 510.83 L347.9 510.6 L348.15 510.35 L348.4 510.09 L348.65 509.82 L348.9 509.54 L349.15 509.24 L349.4 508.93 L349.65 508.62 L349.9 508.29 L350.15 507.96 L350.4 507.62 L350.65 507.28 L350.9 506.93 L351.15 506.57 L351.4 506.22 L351.65 505.86 L351.9 505.5 L352.15 505.13 L352.4 504.77 L352.65 504.41 L352.9 504.04 L353.15 503.68 L353.4 503.32 L353.65 502.96 L353.9 502.6 L354.15 502.25 L354.4 501.9 L354.65 501.55 L354.9 501.21 L355.15 500.87 L355.4 500.54 L355.65 500.21 L355.9 499.89 L356.15 499.57 L356.4 499.26 L356.65 498.95 L356.9 498.65 L357.15 498.36 L357.4 498.07 L357.65 497.79 L357.9 497.51 L358.15 497.24 L358.4 496.98 L358.65 496.73 L358.9 496.48 L359.15 496.24 L359.4 496 L359.65 495.78 L359.9 495.56 L360.15 495.35 L360.4 495.14 L360.65 494.95 L360.9 494.76 L361.15 494.58 L361.4 494.4 L361.65 494.24 L361.9 494.08 L362.15 493.93 L362.4 493.79 L362.65 493.65 L362.9 493.53 L363.15 493.41 L363.4 493.29 L363.65 493.19 L363.9 493.09 L364.15 493.01 L364.4 492.93 L364.65 492.85 L364.9 492.79 L365.15 492.73 L365.4 492.68 L365.65 492.64 L365.9 492.61 L366.15 492.58 L366.4 492.57 L366.65 492.56 L366.9 492.56 L367.15 492.56 L367.4 492.58 L367.65 492.6 L367.9 492.63 L368.15 492.67 L368.4 492.71 L368.65 492.76 L368.9 492.83 L369.15 492.89 L369.4 492.97 L369.65 493.06 L369.9 493.15 L370.15 493.25 L370.4 493.36 L370.65 493.48 L370.9 493.6 L371.15 493.73 L371.4 493.87 L371.65 494.02 L371.9 494.18 L372.15 494.34 L372.4 494.51 L372.65 494.69 L372.9 494.87 L373.15 495.07 L373.4 495.27 L373.65 495.48 L373.9 495.7 L374.15 495.92 L374.4 496.15 L374.65 496.39 L374.9 496.64 L375.15 496.9 L375.4 497.16 L375.65 497.43 L375.9 497.7 L376.15 497.99 L376.4 498.28 L376.65 498.57 L376.9 498.88 L377.15 499.19 L377.4 499.51 L377.65 499.83 L377.9 500.16 L378.15 500.5 L378.4 500.84 L378.65 501.19 L378.9 501.54 L379.15 501.9 L379.4 502.26 L379.65 502.63 L379.9 503 L380.15 503.38 L380.4 503.76 L380.65 504.15 L380.9 504.53 L381.15 504.92 L381.4 505.32 L381.65 505.71 L381.9 506.11 L382.15 506.5 L382.4 506.9 L382.65 507.3 L382.9 507.69 L383.15 508.09 L383.4 508.48 L383.65 508.87 L383.9 509.25 L384.15 509.63 L384.4 510.01 L384.65 510.38 L384.9 510.74 L385.15 511.09 L385.4 511.44 L385.65 511.77 L385.9 512.1 L386.15 512.41 L386.4 512.71 L386.65 513 L386.9 513.28 L387.15 513.53 L387.4 513.78 L387.65 514 L387.9 514.21 L388.15 514.4 L388.4 514.57 L388.65 514.72 L388.9 514.84 L389.15 514.95 L389.4 515.04 L389.65 515.11 L389.9 515.15 L390.15 515.17 L390.4 515.17 L390.65 515.15 L390.9 515.1 L391.15 515.03 L391.4 514.94 L391.65 514.83 L391.9 514.7 L392.15 514.55 L392.4 514.38 L392.65 514.19 L392.9 513.98 L393.15 513.75 L393.4 513.51 L393.65 513.26 L393.9 512.99 L394.15 512.7 L394.4 512.4 L394.65 512.1 L394.9 511.78 L395.15 511.45 L395.4 511.12 L395.65 510.77 L395.9 510.42 L396.15 510.07 L396.4 509.71 L396.65 509.34 L396.9 508.97 L397.15 508.6 L397.4 508.23 L397.65 507.86 L397.9 507.49 L398.15 507.12 L398.4 506.74 L398.65 506.37 L398.9 506 L399.15 505.64 L399.4 505.27 L399.65 504.91 L399.9 504.56 L400.15 504.21 L400.4 503.86 L400.65 503.51 L400.9 503.18 L401.15 502.84 L401.4 502.52 L401.65 502.19 L401.9 501.88 L402.15 501.57 L402.4 501.27 L402.65 500.97 L402.9 500.68 L403.15 500.4 L403.4 500.12 L403.65 499.85 L403.9 499.59 L404.15 499.33 L404.4 499.09 L404.65 498.85 L404.9 498.62 L405.15 498.39 L405.4 498.17 L405.65 497.97 L405.9 497.76 L406.15 497.57 L406.4 497.39 L406.65 497.21 L406.9 497.04 L407.15 496.88 L407.4 496.72 L407.65 496.58 L407.9 496.44 L408.15 496.31 L408.4 496.19 L408.65 496.07 L408.9 495.97 L409.15 495.87 L409.4 495.78 L409.65 495.7 L409.9 495.63 L410.15 495.56 L410.4 495.51 L410.65 495.46 L410.9 495.42 L411.15 495.39 L411.4 495.36 L411.65 495.35 L411.9 495.34 L412.15 495.34 L412.4 495.35 L412.65 495.36 L412.9 495.39 L413.15 495.42 L413.4 495.46 L413.65 495.51 L413.9 495.57 L414.15 495.64 L414.4 495.71 L414.65 495.79 L414.9 495.88 L415.15 495.98 L415.4 496.09 L415.65 496.2 L415.9 496.33 L416.15 496.46 L416.4 496.6 L416.65 496.74 L416.9 496.9 L417.15 497.06 L417.4 497.23 L417.65 497.41 L417.9 497.6 L418.15 497.8 L418.4 498 L418.65 498.21 L418.9 498.43 L419.15 498.66 L419.4 498.89 L419.65 499.13 L419.9 499.38 L420.15 499.64 L420.4 499.91 L420.65 500.18 L420.9 500.46 L421.15 500.75 L421.4 501.04 L421.65 501.35 L421.9 501.66 L422.15 501.97 L422.4 502.29 L422.65 502.62 L422.9 502.96 L423.15 503.3 L423.4 503.65 L423.65 504 L423.9 504.36 L424.15 504.73 L424.4 505.1 L424.65 505.47 L424.9 505.85 L425.15 506.24 L425.4 506.62 L425.65 507.01 L425.9 507.41 L426.15 507.81 L426.4 508.2 L426.65 508.6 L426.9 509.01 L427.15 509.41 L427.4 509.81 L427.65 510.21 L427.9 510.61 L428.15 511.01 L428.4 511.4 L428.65 511.79 L428.9 512.18 L429.15 512.56 L429.4 512.93 L429.65 513.3 L429.9 513.66 L430.15 514.01 L430.4 514.35 L430.65 514.68 L430.9 515 L431.15 515.31 L431.4 515.6 L431.65 515.88 L431.9 516.14 L432.15 516.38 L432.4 516.61 L432.65 516.81 L432.9 517 L433.15 517.17 L433.4 517.32 L433.65 517.45 L433.9 517.55 L434.15 517.64 L434.4 517.7 L434.65 517.74 L434.9 517.75 L435.15 517.75 L435.4 517.72 L435.65 517.67 L435.9 517.6 L436.15 517.51 L436.4 517.4 L436.65 517.26 L436.9 517.11 L437.15 516.94 L437.4 516.75 L437.65 516.55 L437.9 516.33 L438.15 516.09 L438.4 515.84 L438.65 515.57 L438.9 515.29 L439.15 515 L439.4 514.7 L439.65 514.39 L439.9 514.07 L440.15 513.74 L440.4 513.4 L440.65 513.06 L440.9 512.71 L441.15 512.36 L441.4 512 L441.65 511.64 L441.9 511.28 L442.15 510.91 L442.4 510.55 L442.65 510.18 L442.9 509.81 L443.15 509.44 L443.4 509.08 L443.65 508.72 L443.9 508.35 L444.15 508 L444.4 507.64 L444.65 507.29 L444.9 506.94 L445.15 506.59 L445.4 506.25 L445.65 505.91 L445.9 505.58 L446.15 505.26 L446.4 504.94 L446.65 504.62 L446.9 504.31 L447.15 504.01 L447.4 503.71 L447.65 503.42 L447.9 503.14 L448.15 502.86 L448.4 502.59 L448.65 502.32 L448.9 502.07 L449.15 501.82 L449.4 501.57 L449.65 501.34 L449.9 501.11 L450.15 500.89 L450.4 500.67 L450.65 500.46 L450.9 500.27 L451.15 500.07 L451.4 499.89 L451.65 499.71 L451.9 499.54 L452.15 499.38 L452.4 499.23 L452.65 499.08 L452.9 498.95 L453.15 498.82 L453.4 498.69 L453.65 498.58 L453.9 498.47 L454.15 498.37 L454.4 498.28 L454.65 498.2 L454.9 498.12 L455.15 498.05 L455.4 497.99 L455.65 497.94 L455.9 497.9 L456.15 497.86 L456.4 497.83 L456.65 497.81 L456.9 497.8 L457.15 497.79 L457.4 497.79 L457.65 497.8 L457.9 497.82 L458.15 497.85 L458.4 497.88 L458.65 497.92 L458.9 497.97 L459.15 498.03 L459.4 498.1 L459.65 498.17 L459.9 498.25 L460.15 498.34 L460.4 498.44 L460.65 498.54 L460.9 498.65 L461.15 498.77 L461.4 498.9 L461.65 499.04 L461.9 499.18 L462.15 499.33 L462.4 499.49 L462.65 499.66 L462.9 499.83 L463.15 500.02 L463.4 500.21 L463.65 500.4 L463.9 500.61 L464.15 500.82 L464.4 501.04 L464.65 501.27 L464.9 501.5 L465.15 501.75 L465.4 502 L465.65 502.25 L465.9 502.52 L466.15 502.79 L466.4 503.07 L466.65 503.35 L466.9 503.65 L467.15 503.95 L467.4 504.25 L467.65 504.57 L467.9 504.88 L468.15 505.21 L468.4 505.54 L468.65 505.88 L468.9 506.22 L469.15 506.57 L469.4 506.92 L469.65 507.28 L469.9 507.65 L470.15 508.02 L470.4 508.39 L470.65 508.76 L470.9 509.14 L471.15 509.53 L471.4 509.91 L471.65 510.3 L471.9 510.69 L472.15 511.08 L472.4 511.47 L472.65 511.87 L472.9 512.26 L473.15 512.65 L473.4 513.04 L473.65 513.43 L473.9 513.81 L474.15 514.2 L474.4 514.57 L474.65 514.94 L474.9 515.31 L475.15 515.67 L475.4 516.02 L475.65 516.36 L475.9 516.7 L476.15 517.02 L476.4 517.33 L476.65 517.63 L476.9 517.92 L477.15 518.19 L477.4 518.45 L477.65 518.69 L477.9 518.91 L478.15 519.12 L478.4 519.31 L478.65 519.48 L478.9 519.63 L479.15 519.76 L479.4 519.86 L479.65 519.95 L479.9 520.02 L480.15 520.06 L480.4 520.09 L480.65 520.09 L480.9 520.07 L481.15 520.02 L481.4 519.96 L481.65 519.87 L481.9 519.77 L482.15 519.64 L482.4 519.49 L482.65 519.33 L482.9 519.14 L483.15 518.94 L483.4 518.72 L483.65 518.49 L483.9 518.24 L484.15 517.98 L484.4 517.7 L484.65 517.41 L484.9 517.11 L485.15 516.8 L485.4 516.48 L485.65 516.15 L485.9 515.81 L486.15 515.47 L486.4 515.12 L486.65 514.76 L486.9 514.4 L487.15 514.04 L487.4 513.67 L487.65 513.31 L487.9 512.94 L488.15 512.57 L488.4 512.2 L488.65 511.83 L488.9 511.46 L489.15 511.09 L489.4 510.73 L489.65 510.36 L489.9 510 L490.15 509.65 L490.4 509.29 L490.65 508.94 L490.9 508.6 L491.15 508.26 L491.4 507.92 L491.65 507.59 L491.9 507.27 L492.15 506.95 L492.4 506.64 L492.65 506.33 L492.9 506.03 L493.15 505.73 L493.4 505.45 L493.65 505.16 L493.9 504.89 L494.15 504.62 L494.4 504.36 L494.65 504.11 L494.9 503.86 L495.15 503.62 L495.4 503.39 L495.65 503.16 L495.9 502.95 L496.15 502.74 L496.4 502.53 L496.65 502.34 L496.9 502.15 L497.15 501.97 L497.4 501.8 L497.65 501.64 L497.9 501.48 L498.15 501.33 L498.4 501.19 L498.65 501.06 L498.9 500.93 L499.15 500.82 L499.4 500.71 L499.65 500.6 L499.9 500.51 L500.15 500.42 L500.4 500.35 L500.65 500.28 L500.9 500.21 L501.15 500.16 L501.4 500.11 L501.65 500.08 L501.9 500.05 L502.15 500.02 L502.4 500.01 L502.65 500 L502.9 500 L503.15 500.01 L503.4 500.03 L503.65 500.05 L503.9 500.09 L504.15 500.13 L504.4 500.18 L504.65 500.23 L504.9 500.3 L505.15 500.37 L505.4 500.45 L505.65 500.54 L505.9 500.63 L506.15 500.74 L506.4 500.85 L506.65 500.97 L506.9 501.1 L507.15 501.23 L507.4 501.38 L507.65 501.53 L507.9 501.69 L508.15 501.85 L508.4 502.03 L508.65 502.21 L508.9 502.4 L509.15 502.6 L509.4 502.81 L509.65 503.02 L509.9 503.24 L510.15 503.47 L510.4 503.7 L510.65 503.95 L510.9 504.2 L511.15 504.46 L511.4 504.72 L511.65 504.99 L511.9 505.27 L512.15 505.56 L512.4 505.85 L512.65 506.16 L512.9 506.46 L513.15 506.78 L513.4 507.1 L513.65 507.42 L513.9 507.76 L514.15 508.09 L514.4 508.44 L514.65 508.79 L514.9 509.14 L515.15 509.5 L515.4 509.87 L515.65 510.24 L515.9 510.61 L516.15 510.99 L516.4 511.37 L516.65 511.76 L516.9 512.14 L517.15 512.53 L517.4 512.92 L517.65 513.31 L517.9 513.71 L518.15 514.1 L518.4 514.49 L518.65 514.88 L518.9 515.27 L519.15 515.66 L519.4 516.05 L519.65 516.43 L519.9 516.8 L520.15 517.17 L520.4 517.54 L520.65 517.9 L520.9 518.25 L521.15 518.59 L521.4 518.92 L521.65 519.24 L521.9 519.54 L522.15 519.84 L522.4 520.12 L522.65 520.39 L522.9 520.64 L523.15 520.87 L523.4 521.09 L523.65 521.29 L523.9 521.47 L524.15 521.63 L524.4 521.77 L524.65 521.9 L524.9 522 L525.15 522.08 L525.4 522.13 L525.65 522.17 L525.9 522.18 L526.15 522.17 L526.4 522.14 L526.65 522.09 L526.9 522.02 L527.15 521.92 L527.4 521.81 L527.65 521.67 L527.9 521.52 L528.15 521.34 L528.4 521.15 L528.65 520.94 L528.9 520.72 L529.15 520.48 L529.4 520.22 L529.65 519.95 L529.9 519.67 L530.15 519.37 L530.4 519.07 L530.65 518.75" stroke-width="1.3" stroke-dasharray="4 2.3"/>
</g>
<g fill="none" stroke="#000" stroke-width="1.6" shape-rendering="auto">
<rect x="58.9" y="5.7" width="477.30000000000007" height="286.0"/>
<rect x="53.3" y="365.1" width="477.40000000000003" height="286.0"/>
<path d="M58.9 291.7 h-4.5 M58.9 263.1 h-2.2 M58.9 234.5 h-4.5 M58.9 205.9 h-2.2 M58.9 177.3 h-4.5 M58.9 148.7 h-2.2 M58.9 120.1 h-4.5 M58.9 91.5 h-2.2 M58.9 62.9 h-4.5 M58.9 34.3 h-2.2 M58.9 5.7 h-4.5 M58.9 291.7 v4.0 M118.56 291.7 v2.2 M178.22 291.7 v4.0 M237.89 291.7 v2.2 M297.55 291.7 v4.0 M357.21 291.7 v2.2 M416.88 291.7 v4.0 M476.54 291.7 v2.2 M536.2 291.7 v4.0 M53.3 365.1 h-4.5 M53.3 388.93 h-2.2 M53.3 412.77 h-4.5 M53.3 436.6 h-2.2 M53.3 460.43 h-4.5 M53.3 484.27 h-2.2 M53.3 508.1 h-4.5 M53.3 531.93 h-2.2 M53.3 555.77 h-4.5 M53.3 579.6 h-2.2 M53.3 603.43 h-4.5 M53.3 627.27 h-2.2 M53.3 651.1 h-4.5 M53.3 651.1 v4.0 M93.08 651.1 v2.2 M132.87 651.1 v4.0 M172.65 651.1 v2.2 M212.43 651.1 v4.0 M252.22 651.1 v2.2 M292 651.1 v4.0 M331.78 651.1 v2.2 M371.57 651.1 v4.0 M411.35 651.1 v2.2 M451.13 651.1 v4.0 M490.92 651.1 v2.2 M530.7 651.1 v4.0"/>
</g>
<text transform="translate(8.03 9.80) scale(1.0925 1.0000)" font-size="14.2" font-family="'Liberation Sans', sans-serif" font-weight="bold">a</text>
<text transform="translate(26.34 10.60) scale(1.1318 1.0000)" font-size="12.5" font-family="'Liberation Sans', sans-serif" stroke="#000" stroke-width="0.15">100</text>
<text transform="translate(33.32 67.80) scale(1.2117 1.0000)" font-size="12.5" font-family="'Liberation Sans', sans-serif" stroke="#000" stroke-width="0.15">80</text>
<text transform="translate(33.24 125.00) scale(1.2176 1.0000)" font-size="12.5" font-family="'Liberation Sans', sans-serif" stroke="#000" stroke-width="0.15">60</text>
<text transform="translate(33.70 182.20) scale(1.1829 1.0000)" font-size="12.5" font-family="'Liberation Sans', sans-serif" stroke="#000" stroke-width="0.15">40</text>
<text transform="translate(33.24 239.40) scale(1.2176 1.0000)" font-size="12.5" font-family="'Liberation Sans', sans-serif" stroke="#000" stroke-width="0.15">20</text>
<text transform="translate(41.68 296.60) scale(1.2333 1.0000)" font-size="12.5" font-family="'Liberation Sans', sans-serif" stroke="#000" stroke-width="0.15">0</text>
<text transform="translate(14.00 196.04) rotate(-90) scale(1.1083 1.0000)" font-size="16" font-family="'DejaVu Sans Light', 'DejaVu Sans', sans-serif" font-weight="200" stroke="#000" stroke-width="0.55">Magnitude</text>
<text transform="translate(43.79 309.30) scale(1.2150 1.0000)" font-size="12.5" font-family="'Liberation Sans', sans-serif" stroke="#000" stroke-width="0.15">0.00</text>
<text transform="translate(163.12 309.30) scale(1.2182 1.0000)" font-size="12.5" font-family="'Liberation Sans', sans-serif" stroke="#000" stroke-width="0.15">0.05</text>
<text transform="translate(282.44 309.30) scale(1.2150 1.0000)" font-size="12.5" font-family="'Liberation Sans', sans-serif" stroke="#000" stroke-width="0.15">0.10</text>
<text transform="translate(401.77 309.30) scale(1.2182 1.0000)" font-size="12.5" font-family="'Liberation Sans', sans-serif" stroke="#000" stroke-width="0.15">0.15</text>
<text transform="translate(521.09 309.30) scale(1.2150 1.0000)" font-size="12.5" font-family="'Liberation Sans', sans-serif" stroke="#000" stroke-width="0.15">0.20</text>
<text transform="translate(159.00 329.90) scale(1.1435 1.0000)" font-size="16" font-family="'DejaVu Sans Light', 'DejaVu Sans', sans-serif" font-weight="200" stroke="#000" stroke-width="0.55">Horizontal </text><text transform="translate(263.49 329.90) scale(1.0656 1.0000)" font-size="16" font-family="'DejaVu Sans Light', 'DejaVu Sans', sans-serif" font-weight="200" stroke="#000" stroke-width="0.55">wavenumber </text><text transform="translate(386.11 332.00) scale(1.4026 1.0400)" font-size="22" font-family="'DejaVu Sans Light', 'DejaVu Sans', sans-serif" font-weight="200" stroke="#000" stroke-width="0.25">(</text><text transform="translate(395.26 329.90) scale(1.2169 1.0000)" font-size="16" font-family="'DejaVu Sans Light', 'DejaVu Sans', sans-serif" font-weight="200" stroke="#000" stroke-width="0.55">m</text><text transform="translate(414.48 321.60) scale(0.9263 1.0000)" font-size="9.5" font-family="'DejaVu Sans', 'Liberation Sans', sans-serif" stroke="#000" stroke-width="0.3">−</text><text transform="translate(421.42 322.00) scale(0.7502 1.0000)" font-size="9.5" font-family="'DejaVu Sans', 'Liberation Sans', sans-serif" stroke="#000" stroke-width="0.3">1</text><text transform="translate(424.90 332.00) scale(1.3636 1.0400)" font-size="22" font-family="'DejaVu Sans Light', 'DejaVu Sans', sans-serif" font-weight="200" stroke="#000" stroke-width="0.25">)</text>
<text transform="translate(417.75 18.95) scale(1.2582 1.0000)" font-size="12.3" font-family="'DejaVu Sans', 'Liberation Sans', sans-serif" stroke="#000" stroke-width="0.15">F</text> <text transform="translate(443.32 18.95) scale(1.0667 1.0000)" font-size="12.3" font-family="'DejaVu Sans', 'Liberation Sans', sans-serif" stroke="#000" stroke-width="0.15">=</text> <text transform="translate(470.74 18.95) scale(1.1503 1.0000)" font-size="12.3" font-family="'DejaVu Sans', 'Liberation Sans', sans-serif" stroke="#000" stroke-width="0.15">20.0</text> <text transform="translate(509.99 18.95) scale(1.0648 1.0000)" font-size="12.3" font-family="'DejaVu Sans', 'Liberation Sans', sans-serif" stroke="#000" stroke-width="0.15">Hz</text>
<text transform="translate(418.17 32.75) scale(1.0417 1.0000)" font-size="12.3" font-family="'DejaVu Sans', 'Liberation Sans', sans-serif" stroke="#000" stroke-width="0.15">SD</text> <text transform="translate(445.01 32.75) scale(1.0797 1.0000)" font-size="12.3" font-family="'DejaVu Sans', 'Liberation Sans', sans-serif" stroke="#000" stroke-width="0.15">=</text> <text transform="translate(472.78 32.75) scale(1.1074 1.0000)" font-size="12.3" font-family="'DejaVu Sans', 'Liberation Sans', sans-serif" stroke="#000" stroke-width="0.15">36.0</text> <text transform="translate(511.94 32.75) scale(1.0467 1.0000)" font-size="12.3" font-family="'DejaVu Sans', 'Liberation Sans', sans-serif" stroke="#000" stroke-width="0.15">m</text>
<text transform="translate(418.07 46.45) scale(1.0030 1.0000)" font-size="12.3" font-family="'DejaVu Sans', 'Liberation Sans', sans-serif" stroke="#000" stroke-width="0.15">RD</text> <text transform="translate(445.01 46.45) scale(1.0797 1.0000)" font-size="12.3" font-family="'DejaVu Sans', 'Liberation Sans', sans-serif" stroke="#000" stroke-width="0.15">=</text> <text transform="translate(464.80 46.45) scale(1.0870 1.0000)" font-size="12.3" font-family="'DejaVu Sans', 'Liberation Sans', sans-serif" stroke="#000" stroke-width="0.15">36;46</text> <text transform="translate(511.94 46.45) scale(1.0467 1.0000)" font-size="12.3" font-family="'DejaVu Sans', 'Liberation Sans', sans-serif" stroke="#000" stroke-width="0.15">m</text>
<text transform="translate(7.99 369.80) scale(1.1507 1.0000)" font-size="14.8" font-family="'Liberation Sans', sans-serif" font-weight="bold">b</text>
<text transform="translate(27.53 369.70) scale(1.0960 1.0000)" font-size="13.0" font-family="'DejaVu Sans', 'Liberation Sans', sans-serif" stroke="#000" stroke-width="0.15">20</text>
<text transform="translate(27.53 417.37) scale(1.0960 1.0000)" font-size="13.0" font-family="'DejaVu Sans', 'Liberation Sans', sans-serif" stroke="#000" stroke-width="0.15">30</text>
<text transform="translate(27.90 465.03) scale(1.0723 1.0000)" font-size="13.0" font-family="'DejaVu Sans', 'Liberation Sans', sans-serif" stroke="#000" stroke-width="0.15">40</text>
<text transform="translate(27.53 512.70) scale(1.0960 1.0000)" font-size="13.0" font-family="'DejaVu Sans', 'Liberation Sans', sans-serif" stroke="#000" stroke-width="0.15">50</text>
<text transform="translate(27.61 560.37) scale(1.0912 1.0000)" font-size="13.0" font-family="'DejaVu Sans', 'Liberation Sans', sans-serif" stroke="#000" stroke-width="0.15">60</text>
<text transform="translate(27.46 608.03) scale(1.1009 1.0000)" font-size="13.0" font-family="'DejaVu Sans', 'Liberation Sans', sans-serif" stroke="#000" stroke-width="0.15">70</text>
<text transform="translate(27.68 655.70) scale(1.0864 1.0000)" font-size="13.0" font-family="'DejaVu Sans', 'Liberation Sans', sans-serif" stroke="#000" stroke-width="0.15">80</text>
<text transform="translate(15.10 554.11) rotate(-90) scale(1.1531 1.0000)" font-size="16" font-family="'DejaVu Sans Light', 'DejaVu Sans', sans-serif" font-weight="200" stroke="#000" stroke-width="0.55">Loss </text><text transform="translate(17.20 503.78) rotate(-90) scale(1.4805 0.9800)" font-size="22" font-family="'DejaVu Sans Light', 'DejaVu Sans', sans-serif" font-weight="200" stroke="#000" stroke-width="0.25">(</text><text transform="translate(15.10 494.27) rotate(-90) scale(1.1458 1.0000)" font-size="16" font-family="'DejaVu Sans Light', 'DejaVu Sans', sans-serif" font-weight="200" stroke="#000" stroke-width="0.55">dB</text><text transform="translate(17.20 472.40) rotate(-90) scale(1.3636 0.9800)" font-size="22" font-family="'DejaVu Sans Light', 'DejaVu Sans', sans-serif" font-weight="200" stroke="#000" stroke-width="0.25">)</text>
<text transform="translate(42.72 668.80) scale(1.0763 1.0000)" font-size="12.6" font-family="'DejaVu Sans', 'Liberation Sans', sans-serif" stroke="#000" stroke-width="0.15">0.0</text>
<text transform="translate(122.27 668.80) scale(1.0913 1.0000)" font-size="12.6" font-family="'DejaVu Sans', 'Liberation Sans', sans-serif" stroke="#000" stroke-width="0.15">0.5</text>
<text transform="translate(203.13 668.80) scale(1.0096 1.0000)" font-size="12.6" font-family="'DejaVu Sans', 'Liberation Sans', sans-serif" stroke="#000" stroke-width="0.15">1.0</text>
<text transform="translate(282.68 668.80) scale(1.0241 1.0000)" font-size="12.6" font-family="'DejaVu Sans', 'Liberation Sans', sans-serif" stroke="#000" stroke-width="0.15">1.5</text>
<text transform="translate(360.84 668.80) scale(1.0837 1.0000)" font-size="12.6" font-family="'DejaVu Sans', 'Liberation Sans', sans-serif" stroke="#000" stroke-width="0.15">2.0</text>
<text transform="translate(440.39 668.80) scale(1.0989 1.0000)" font-size="12.6" font-family="'DejaVu Sans', 'Liberation Sans', sans-serif" stroke="#000" stroke-width="0.15">2.5</text>
<text transform="translate(519.98 668.80) scale(1.0837 1.0000)" font-size="12.6" font-family="'DejaVu Sans', 'Liberation Sans', sans-serif" stroke="#000" stroke-width="0.15">3.0</text>
<text transform="translate(235.02 688.80) scale(1.1393 1.0000)" font-size="16" font-family="'DejaVu Sans Light', 'DejaVu Sans', sans-serif" font-weight="200" stroke="#000" stroke-width="0.55">Range </text><text transform="translate(303.12 691.60) scale(1.2727 1.0400)" font-size="22" font-family="'DejaVu Sans Light', 'DejaVu Sans', sans-serif" font-weight="200" stroke="#000" stroke-width="0.25">(</text><text transform="translate(310.59 688.80) scale(1.2161 1.0000)" font-size="16" font-family="'DejaVu Sans Light', 'DejaVu Sans', sans-serif" font-weight="200" stroke="#000" stroke-width="0.55">km</text><text transform="translate(338.41 691.60) scale(1.2374 1.0400)" font-size="22" font-family="'DejaVu Sans Light', 'DejaVu Sans', sans-serif" font-weight="200" stroke="#000" stroke-width="0.25">)</text>
<text transform="translate(412.25 378.35) scale(1.2582 1.0000)" font-size="12.3" font-family="'DejaVu Sans', 'Liberation Sans', sans-serif" stroke="#000" stroke-width="0.15">F</text> <text transform="translate(437.82 378.35) scale(1.0667 1.0000)" font-size="12.3" font-family="'DejaVu Sans', 'Liberation Sans', sans-serif" stroke="#000" stroke-width="0.15">=</text> <text transform="translate(465.24 378.35) scale(1.1503 1.0000)" font-size="12.3" font-family="'DejaVu Sans', 'Liberation Sans', sans-serif" stroke="#000" stroke-width="0.15">20.0</text> <text transform="translate(504.49 378.35) scale(1.0648 1.0000)" font-size="12.3" font-family="'DejaVu Sans', 'Liberation Sans', sans-serif" stroke="#000" stroke-width="0.15">Hz</text>
<text transform="translate(412.67 392.15) scale(1.0417 1.0000)" font-size="12.3" font-family="'DejaVu Sans', 'Liberation Sans', sans-serif" stroke="#000" stroke-width="0.15">SD</text> <text transform="translate(439.51 392.15) scale(1.0797 1.0000)" font-size="12.3" font-family="'DejaVu Sans', 'Liberation Sans', sans-serif" stroke="#000" stroke-width="0.15">=</text> <text transform="translate(467.28 392.15) scale(1.1074 1.0000)" font-size="12.3" font-family="'DejaVu Sans', 'Liberation Sans', sans-serif" stroke="#000" stroke-width="0.15">36.0</text> <text transform="translate(506.44 392.15) scale(1.0467 1.0000)" font-size="12.3" font-family="'DejaVu Sans', 'Liberation Sans', sans-serif" stroke="#000" stroke-width="0.15">m</text>
<text transform="translate(412.57 405.85) scale(1.0030 1.0000)" font-size="12.3" font-family="'DejaVu Sans', 'Liberation Sans', sans-serif" stroke="#000" stroke-width="0.15">RD</text> <text transform="translate(439.51 405.85) scale(1.0797 1.0000)" font-size="12.3" font-family="'DejaVu Sans', 'Liberation Sans', sans-serif" stroke="#000" stroke-width="0.15">=</text> <text transform="translate(459.30 405.85) scale(1.0870 1.0000)" font-size="12.3" font-family="'DejaVu Sans', 'Liberation Sans', sans-serif" stroke="#000" stroke-width="0.15">36;46</text> <text transform="translate(506.44 405.85) scale(1.0467 1.0000)" font-size="12.3" font-family="'DejaVu Sans', 'Liberation Sans', sans-serif" stroke="#000" stroke-width="0.15">m</text>
</svg>
</body></html>
